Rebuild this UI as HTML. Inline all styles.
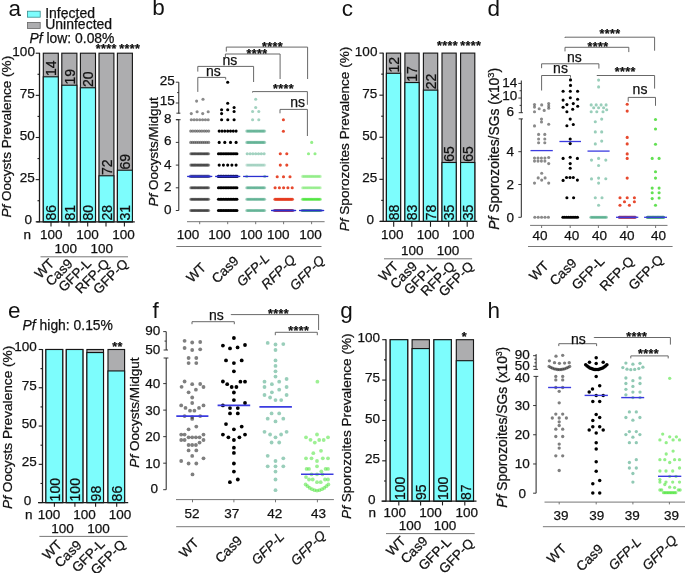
<!DOCTYPE html>
<html><head><meta charset="utf-8"><title>Figure</title>
<style>html,body{margin:0;padding:0;background:#fff}svg{display:block;filter:blur(0.3px)}text{font-family:"Liberation Sans",Arial,sans-serif;stroke:#111;stroke-width:.25px}</style>
</head><body>
<svg width="685" height="573" viewBox="0 0 685 573">
<rect width="685" height="573" fill="#fff"/>
<text x="8.4" y="15.6" font-size="22.5" fill="#111" style="stroke-width:0">a</text>
<text x="152.3" y="15.4" font-size="22.5" fill="#111" style="stroke-width:0">b</text>
<text x="341.7" y="16.2" font-size="22.5" fill="#111" style="stroke-width:0">c</text>
<text x="487.4" y="16.2" font-size="22.5" fill="#111" style="stroke-width:0">d</text>
<text x="7.9" y="317.8" font-size="22.5" fill="#111" style="stroke-width:0">e</text>
<text x="152.5" y="317.9" font-size="22.5" fill="#111" style="stroke-width:0">f</text>
<text x="340.2" y="317.5" font-size="22.5" fill="#111" style="stroke-width:0">g</text>
<text x="487.6" y="318" font-size="22.5" fill="#111" style="stroke-width:0">h</text>
<rect x="27.40" y="11.20" width="12.80" height="6.00" fill="#7dfdfd" stroke="#3a8c8c" stroke-width="0.8"/>
<rect x="27.40" y="22.40" width="12.80" height="6.10" fill="#adadaf" stroke="#666" stroke-width="0.8"/>
<text x="45.20" y="18.00" font-size="14" text-anchor="start" fill="#111">Infected</text>
<text x="45.20" y="29.40" font-size="14" text-anchor="start" fill="#111">Uninfected</text>
<text x="29.5" y="43.3" font-size="13.9" fill="#111"><tspan font-style="italic">Pf</tspan> low: 0.08%</text>
<text x="22.6" y="329.6" font-size="13.9" fill="#111"><tspan font-style="italic">Pf</tspan> high: 0.15%</text>
<rect x="43.30" y="53.20" width="15.00" height="168.60" fill="#adadaf" stroke="#161616" stroke-width="1.12"/>
<rect x="43.30" y="76.80" width="15.00" height="145.00" fill="#7dfdfd" stroke="#161616" stroke-width="1.12"/>
<text x="56.00" y="220.60" font-size="14" text-anchor="start" transform="rotate(-90 56.00 220.60)" fill="#111">86</text>
<text x="56.00" y="76.00" font-size="14" text-anchor="start" transform="rotate(-90 56.00 76.00)" fill="#111">14</text>
<rect x="61.80" y="53.20" width="15.10" height="168.60" fill="#adadaf" stroke="#161616" stroke-width="1.12"/>
<rect x="61.80" y="85.23" width="15.10" height="136.57" fill="#7dfdfd" stroke="#161616" stroke-width="1.12"/>
<text x="74.55" y="220.60" font-size="14" text-anchor="start" transform="rotate(-90 74.55 220.60)" fill="#111">81</text>
<text x="74.55" y="84.43" font-size="14" text-anchor="start" transform="rotate(-90 74.55 84.43)" fill="#111">19</text>
<rect x="80.40" y="53.20" width="15.10" height="168.60" fill="#adadaf" stroke="#161616" stroke-width="1.12"/>
<rect x="80.40" y="87.76" width="15.10" height="134.04" fill="#7dfdfd" stroke="#161616" stroke-width="1.12"/>
<text x="93.15" y="220.60" font-size="14" text-anchor="start" transform="rotate(-90 93.15 220.60)" fill="#111">80</text>
<text x="93.15" y="86.96" font-size="14" text-anchor="start" transform="rotate(-90 93.15 86.96)" fill="#111">20</text>
<rect x="99.00" y="53.20" width="14.90" height="168.60" fill="#adadaf" stroke="#161616" stroke-width="1.12"/>
<rect x="99.00" y="175.77" width="14.90" height="46.03" fill="#7dfdfd" stroke="#161616" stroke-width="1.12"/>
<text x="111.65" y="220.60" font-size="14" text-anchor="start" transform="rotate(-90 111.65 220.60)" fill="#111">28</text>
<text x="111.65" y="174.97" font-size="14" text-anchor="start" transform="rotate(-90 111.65 174.97)" fill="#111">72</text>
<rect x="117.40" y="53.20" width="15.00" height="168.60" fill="#adadaf" stroke="#161616" stroke-width="1.12"/>
<rect x="117.40" y="170.21" width="15.00" height="51.59" fill="#7dfdfd" stroke="#161616" stroke-width="1.12"/>
<text x="130.10" y="220.60" font-size="14" text-anchor="start" transform="rotate(-90 130.10 220.60)" fill="#111">31</text>
<text x="130.10" y="169.41" font-size="14" text-anchor="start" transform="rotate(-90 130.10 169.41)" fill="#111">69</text>
<line x1="39.50" y1="52.80" x2="39.50" y2="222.20" stroke="#1c1c1c" stroke-width="1.3"/>
<line x1="35.70" y1="221.80" x2="39.50" y2="221.80" stroke="#1c1c1c" stroke-width="1.1"/>
<line x1="37.50" y1="200.73" x2="39.50" y2="200.73" stroke="#1c1c1c" stroke-width="1.1"/>
<line x1="35.70" y1="179.65" x2="39.50" y2="179.65" stroke="#1c1c1c" stroke-width="1.1"/>
<line x1="37.50" y1="158.57" x2="39.50" y2="158.57" stroke="#1c1c1c" stroke-width="1.1"/>
<line x1="35.70" y1="137.50" x2="39.50" y2="137.50" stroke="#1c1c1c" stroke-width="1.1"/>
<line x1="37.50" y1="116.42" x2="39.50" y2="116.42" stroke="#1c1c1c" stroke-width="1.1"/>
<line x1="35.70" y1="95.35" x2="39.50" y2="95.35" stroke="#1c1c1c" stroke-width="1.1"/>
<line x1="37.50" y1="74.28" x2="39.50" y2="74.28" stroke="#1c1c1c" stroke-width="1.1"/>
<line x1="35.70" y1="53.20" x2="39.50" y2="53.20" stroke="#1c1c1c" stroke-width="1.1"/>
<text x="31.90" y="224.20" font-size="13.5" text-anchor="end" fill="#111">0</text>
<text x="34.90" y="182.05" font-size="13.5" text-anchor="end" fill="#111">25</text>
<text x="34.90" y="139.90" font-size="13.5" text-anchor="end" fill="#111">50</text>
<text x="34.90" y="97.75" font-size="13.5" text-anchor="end" fill="#111">75</text>
<text x="34.90" y="55.60" font-size="13.5" text-anchor="end" fill="#111">100</text>
<line x1="36.50" y1="221.80" x2="134.80" y2="221.80" stroke="#1c1c1c" stroke-width="1.3"/>
<line x1="51.00" y1="221.80" x2="51.00" y2="226.60" stroke="#1c1c1c" stroke-width="1.1"/>
<line x1="69.00" y1="221.80" x2="69.00" y2="226.60" stroke="#1c1c1c" stroke-width="1.1"/>
<line x1="87.70" y1="221.80" x2="87.70" y2="226.60" stroke="#1c1c1c" stroke-width="1.1"/>
<line x1="106.00" y1="221.80" x2="106.00" y2="226.60" stroke="#1c1c1c" stroke-width="1.1"/>
<line x1="124.40" y1="221.80" x2="124.40" y2="226.60" stroke="#1c1c1c" stroke-width="1.1"/>
<text x="23.50" y="239.30" font-size="13.5" text-anchor="start" fill="#111">n</text>
<text x="51.30" y="239.20" font-size="13.5" text-anchor="middle" fill="#111">100</text>
<text x="87.60" y="239.20" font-size="13.5" text-anchor="middle" fill="#111">100</text>
<text x="123.60" y="239.20" font-size="13.5" text-anchor="middle" fill="#111">100</text>
<text x="65.70" y="252.60" font-size="13.5" text-anchor="middle" fill="#111">100</text>
<text x="101.80" y="252.60" font-size="13.5" text-anchor="middle" fill="#111">100</text>
<line x1="40.50" y1="256.80" x2="128.00" y2="256.80" stroke="#555" stroke-width="0.8"/>
<text x="55.00" y="264.50" font-size="13.5" text-anchor="end" transform="rotate(-45 55.00 264.50)" fill="#111">WT</text>
<text x="73.50" y="264.50" font-size="13.5" text-anchor="end" transform="rotate(-45 73.50 264.50)" fill="#111">Cas9</text>
<text x="92.00" y="264.50" font-size="13.5" text-anchor="end" transform="rotate(-45 92.00 264.50)" fill="#111">GFP-L</text>
<text x="110.50" y="264.50" font-size="13.5" text-anchor="end" transform="rotate(-45 110.50 264.50)" fill="#111">RFP-Q</text>
<text x="129.00" y="264.50" font-size="13.5" text-anchor="end" transform="rotate(-45 129.00 264.50)" fill="#111">GFP-Q</text>
<text x="10.60" y="136.70" font-size="13.54" text-anchor="middle" transform="rotate(-90 10.60 136.70)" fill="#111"><tspan font-style="italic">Pf</tspan> Oocysts Prevalence (%)</text>
<text x="95.70" y="53.40" font-size="12.5" font-weight="bold" letter-spacing="0.39" text-anchor="start" fill="#111">****</text>
<text x="119.30" y="53.40" font-size="12.5" font-weight="bold" letter-spacing="0.39" text-anchor="start" fill="#111">****</text>
<rect x="386.40" y="53.10" width="14.20" height="168.30" fill="#adadaf" stroke="#161616" stroke-width="1.12"/>
<rect x="386.40" y="73.30" width="14.20" height="148.10" fill="#7dfdfd" stroke="#161616" stroke-width="1.12"/>
<text x="398.70" y="220.20" font-size="14" text-anchor="start" transform="rotate(-90 398.70 220.20)" fill="#111">88</text>
<text x="398.70" y="72.50" font-size="14" text-anchor="start" transform="rotate(-90 398.70 72.50)" fill="#111">12</text>
<rect x="404.90" y="53.10" width="14.20" height="168.30" fill="#adadaf" stroke="#161616" stroke-width="1.12"/>
<rect x="404.90" y="82.55" width="14.20" height="138.85" fill="#7dfdfd" stroke="#161616" stroke-width="1.12"/>
<text x="417.20" y="220.20" font-size="14" text-anchor="start" transform="rotate(-90 417.20 220.20)" fill="#111">83</text>
<text x="417.20" y="81.75" font-size="14" text-anchor="start" transform="rotate(-90 417.20 81.75)" fill="#111">17</text>
<rect x="423.40" y="53.10" width="14.30" height="168.30" fill="#adadaf" stroke="#161616" stroke-width="1.12"/>
<rect x="423.40" y="90.13" width="14.30" height="131.27" fill="#7dfdfd" stroke="#161616" stroke-width="1.12"/>
<text x="435.75" y="220.20" font-size="14" text-anchor="start" transform="rotate(-90 435.75 220.20)" fill="#111">78</text>
<text x="435.75" y="89.33" font-size="14" text-anchor="start" transform="rotate(-90 435.75 89.33)" fill="#111">22</text>
<rect x="442.00" y="53.10" width="14.20" height="168.30" fill="#adadaf" stroke="#161616" stroke-width="1.12"/>
<rect x="442.00" y="162.50" width="14.20" height="58.91" fill="#7dfdfd" stroke="#161616" stroke-width="1.12"/>
<text x="454.30" y="220.20" font-size="14" text-anchor="start" transform="rotate(-90 454.30 220.20)" fill="#111">35</text>
<text x="454.30" y="161.69" font-size="14" text-anchor="start" transform="rotate(-90 454.30 161.69)" fill="#111">65</text>
<rect x="460.60" y="53.10" width="14.20" height="168.30" fill="#adadaf" stroke="#161616" stroke-width="1.12"/>
<rect x="460.60" y="162.50" width="14.20" height="58.91" fill="#7dfdfd" stroke="#161616" stroke-width="1.12"/>
<text x="472.90" y="220.20" font-size="14" text-anchor="start" transform="rotate(-90 472.90 220.20)" fill="#111">35</text>
<text x="472.90" y="161.69" font-size="14" text-anchor="start" transform="rotate(-90 472.90 161.69)" fill="#111">65</text>
<line x1="383.20" y1="52.70" x2="383.20" y2="221.80" stroke="#1c1c1c" stroke-width="1.3"/>
<line x1="379.40" y1="221.40" x2="383.20" y2="221.40" stroke="#1c1c1c" stroke-width="1.1"/>
<line x1="381.20" y1="200.36" x2="383.20" y2="200.36" stroke="#1c1c1c" stroke-width="1.1"/>
<line x1="379.40" y1="179.32" x2="383.20" y2="179.32" stroke="#1c1c1c" stroke-width="1.1"/>
<line x1="381.20" y1="158.29" x2="383.20" y2="158.29" stroke="#1c1c1c" stroke-width="1.1"/>
<line x1="379.40" y1="137.25" x2="383.20" y2="137.25" stroke="#1c1c1c" stroke-width="1.1"/>
<line x1="381.20" y1="116.21" x2="383.20" y2="116.21" stroke="#1c1c1c" stroke-width="1.1"/>
<line x1="379.40" y1="95.17" x2="383.20" y2="95.17" stroke="#1c1c1c" stroke-width="1.1"/>
<line x1="381.20" y1="74.14" x2="383.20" y2="74.14" stroke="#1c1c1c" stroke-width="1.1"/>
<line x1="379.40" y1="53.10" x2="383.20" y2="53.10" stroke="#1c1c1c" stroke-width="1.1"/>
<text x="373.90" y="224.10" font-size="13.5" text-anchor="end" fill="#111">0</text>
<text x="377.40" y="182.02" font-size="13.5" text-anchor="end" fill="#111">25</text>
<text x="377.40" y="139.95" font-size="13.5" text-anchor="end" fill="#111">50</text>
<text x="377.40" y="97.88" font-size="13.5" text-anchor="end" fill="#111">75</text>
<text x="377.40" y="55.80" font-size="13.5" text-anchor="end" fill="#111">100</text>
<line x1="380.00" y1="221.40" x2="477.20" y2="221.40" stroke="#1c1c1c" stroke-width="1.3"/>
<line x1="393.70" y1="221.40" x2="393.70" y2="226.80" stroke="#1c1c1c" stroke-width="1.1"/>
<line x1="411.80" y1="221.40" x2="411.80" y2="226.80" stroke="#1c1c1c" stroke-width="1.1"/>
<line x1="430.50" y1="221.40" x2="430.50" y2="226.80" stroke="#1c1c1c" stroke-width="1.1"/>
<line x1="448.70" y1="221.40" x2="448.70" y2="226.80" stroke="#1c1c1c" stroke-width="1.1"/>
<line x1="467.20" y1="221.40" x2="467.20" y2="226.80" stroke="#1c1c1c" stroke-width="1.1"/>
<text x="392.30" y="238.70" font-size="13.5" text-anchor="middle" fill="#111">100</text>
<text x="428.10" y="238.70" font-size="13.5" text-anchor="middle" fill="#111">100</text>
<text x="463.30" y="238.70" font-size="13.5" text-anchor="middle" fill="#111">100</text>
<text x="412.30" y="254.90" font-size="13.5" text-anchor="middle" fill="#111">100</text>
<text x="448.00" y="254.90" font-size="13.5" text-anchor="middle" fill="#111">100</text>
<line x1="384.00" y1="258.80" x2="472.10" y2="258.80" stroke="#555" stroke-width="0.8"/>
<text x="399.00" y="267.10" font-size="13.5" text-anchor="end" transform="rotate(-45 399.00 267.10)" fill="#111">WT</text>
<text x="418.00" y="267.10" font-size="13.5" text-anchor="end" transform="rotate(-45 418.00 267.10)" fill="#111">Cas9</text>
<text x="437.50" y="267.10" font-size="13.5" text-anchor="end" transform="rotate(-45 437.50 267.10)" fill="#111">GFP-L</text>
<text x="456.00" y="267.10" font-size="13.5" text-anchor="end" transform="rotate(-45 456.00 267.10)" fill="#111">RFP-Q</text>
<text x="474.50" y="267.10" font-size="13.5" text-anchor="end" transform="rotate(-45 474.50 267.10)" fill="#111">GFP-Q</text>
<text x="348.70" y="139.00" font-size="13.55" text-anchor="middle" transform="rotate(-90 348.70 139.00)" fill="#111"><tspan font-style="italic">Pf</tspan> Sporozoites Prevalence (%)</text>
<text x="437.00" y="49.70" font-size="12.5" font-weight="bold" letter-spacing="0.39" text-anchor="start" fill="#111">****</text>
<text x="460.20" y="49.70" font-size="12.5" font-weight="bold" letter-spacing="0.39" text-anchor="start" fill="#111">****</text>
<rect x="45.90" y="349.50" width="16.80" height="153.10" fill="#adadaf" stroke="#161616" stroke-width="1.12"/>
<rect x="45.90" y="349.50" width="16.80" height="153.10" fill="#7dfdfd" stroke="#161616" stroke-width="1.12"/>
<text x="59.90" y="501.40" font-size="14" text-anchor="start" transform="rotate(-90 59.90 501.40)" fill="#111">100</text>
<rect x="66.30" y="349.50" width="16.60" height="153.10" fill="#adadaf" stroke="#161616" stroke-width="1.12"/>
<rect x="66.30" y="349.50" width="16.60" height="153.10" fill="#7dfdfd" stroke="#161616" stroke-width="1.12"/>
<text x="80.20" y="501.40" font-size="14" text-anchor="start" transform="rotate(-90 80.20 501.40)" fill="#111">100</text>
<rect x="86.90" y="349.50" width="16.60" height="153.10" fill="#adadaf" stroke="#161616" stroke-width="1.12"/>
<rect x="86.90" y="352.56" width="16.60" height="150.04" fill="#7dfdfd" stroke="#161616" stroke-width="1.12"/>
<text x="100.80" y="501.40" font-size="14" text-anchor="start" transform="rotate(-90 100.80 501.40)" fill="#111">98</text>
<rect x="108.00" y="349.50" width="16.60" height="153.10" fill="#adadaf" stroke="#161616" stroke-width="1.12"/>
<rect x="108.00" y="370.93" width="16.60" height="131.67" fill="#7dfdfd" stroke="#161616" stroke-width="1.12"/>
<text x="121.90" y="501.40" font-size="14" text-anchor="start" transform="rotate(-90 121.90 501.40)" fill="#111">86</text>
<line x1="42.50" y1="349.10" x2="42.50" y2="503.00" stroke="#1c1c1c" stroke-width="1.3"/>
<line x1="38.70" y1="502.60" x2="42.50" y2="502.60" stroke="#1c1c1c" stroke-width="1.1"/>
<line x1="40.50" y1="483.46" x2="42.50" y2="483.46" stroke="#1c1c1c" stroke-width="1.1"/>
<line x1="38.70" y1="464.33" x2="42.50" y2="464.33" stroke="#1c1c1c" stroke-width="1.1"/>
<line x1="40.50" y1="445.19" x2="42.50" y2="445.19" stroke="#1c1c1c" stroke-width="1.1"/>
<line x1="38.70" y1="426.05" x2="42.50" y2="426.05" stroke="#1c1c1c" stroke-width="1.1"/>
<line x1="40.50" y1="406.91" x2="42.50" y2="406.91" stroke="#1c1c1c" stroke-width="1.1"/>
<line x1="38.70" y1="387.77" x2="42.50" y2="387.77" stroke="#1c1c1c" stroke-width="1.1"/>
<line x1="40.50" y1="368.64" x2="42.50" y2="368.64" stroke="#1c1c1c" stroke-width="1.1"/>
<line x1="38.70" y1="349.50" x2="42.50" y2="349.50" stroke="#1c1c1c" stroke-width="1.1"/>
<text x="31.30" y="504.50" font-size="13.5" text-anchor="end" fill="#111">0</text>
<text x="36.70" y="466.23" font-size="13.5" text-anchor="end" fill="#111">25</text>
<text x="36.70" y="427.95" font-size="13.5" text-anchor="end" fill="#111">50</text>
<text x="36.70" y="389.67" font-size="13.5" text-anchor="end" fill="#111">75</text>
<text x="36.70" y="351.40" font-size="13.5" text-anchor="end" fill="#111">100</text>
<line x1="38.00" y1="502.60" x2="128.20" y2="502.60" stroke="#1c1c1c" stroke-width="1.3"/>
<line x1="54.40" y1="502.60" x2="54.40" y2="506.80" stroke="#1c1c1c" stroke-width="1.1"/>
<line x1="74.90" y1="502.60" x2="74.90" y2="506.80" stroke="#1c1c1c" stroke-width="1.1"/>
<line x1="95.60" y1="502.60" x2="95.60" y2="506.80" stroke="#1c1c1c" stroke-width="1.1"/>
<line x1="116.70" y1="502.60" x2="116.70" y2="506.80" stroke="#1c1c1c" stroke-width="1.1"/>
<text x="24.90" y="518.90" font-size="13.5" text-anchor="start" fill="#111">n</text>
<text x="49.00" y="519.00" font-size="13.5" text-anchor="middle" fill="#111">100</text>
<text x="84.60" y="519.00" font-size="13.5" text-anchor="middle" fill="#111">100</text>
<text x="120.00" y="519.00" font-size="13.5" text-anchor="middle" fill="#111">100</text>
<text x="62.40" y="532.70" font-size="13.5" text-anchor="middle" fill="#111">100</text>
<text x="98.40" y="532.70" font-size="13.5" text-anchor="middle" fill="#111">100</text>
<line x1="39.40" y1="536.40" x2="127.70" y2="536.40" stroke="#555" stroke-width="0.8"/>
<text x="62.80" y="545.70" font-size="13.5" text-anchor="end" transform="rotate(-45 62.80 545.70)" fill="#111">WT</text>
<text x="82.50" y="546.00" font-size="13.5" text-anchor="end" transform="rotate(-45 82.50 546.00)" fill="#111">Cas9</text>
<text x="105.50" y="545.00" font-size="13.5" text-anchor="end" transform="rotate(-45 105.50 545.00)" fill="#111">GFP-L</text>
<text x="126.40" y="545.30" font-size="13.5" text-anchor="end" transform="rotate(-45 126.40 545.30)" fill="#111">GFP-Q</text>
<text x="11.80" y="427.30" font-size="13.66" text-anchor="middle" transform="rotate(-90 11.80 427.30)" fill="#111"><tspan font-style="italic">Pf</tspan> Oocysts Prevalence (%)</text>
<text x="112.30" y="350.50" font-size="12.5" font-weight="bold" letter-spacing="0.39" text-anchor="start" fill="#111">**</text>
<rect x="390.20" y="339.70" width="17.50" height="161.50" fill="#adadaf" stroke="#161616" stroke-width="1.12"/>
<rect x="390.20" y="339.70" width="17.50" height="161.50" fill="#7dfdfd" stroke="#161616" stroke-width="1.12"/>
<text x="404.55" y="500.00" font-size="14" text-anchor="start" transform="rotate(-90 404.55 500.00)" fill="#111">100</text>
<rect x="412.10" y="339.70" width="17.30" height="161.50" fill="#adadaf" stroke="#161616" stroke-width="1.12"/>
<rect x="412.10" y="348.58" width="17.30" height="152.62" fill="#7dfdfd" stroke="#161616" stroke-width="1.12"/>
<text x="426.35" y="500.00" font-size="14" text-anchor="start" transform="rotate(-90 426.35 500.00)" fill="#111">95</text>
<rect x="433.90" y="339.70" width="17.40" height="161.50" fill="#adadaf" stroke="#161616" stroke-width="1.12"/>
<rect x="433.90" y="339.70" width="17.40" height="161.50" fill="#7dfdfd" stroke="#161616" stroke-width="1.12"/>
<text x="448.20" y="500.00" font-size="14" text-anchor="start" transform="rotate(-90 448.20 500.00)" fill="#111">100</text>
<rect x="456.30" y="339.70" width="17.20" height="161.50" fill="#adadaf" stroke="#161616" stroke-width="1.12"/>
<rect x="456.30" y="360.69" width="17.20" height="140.50" fill="#7dfdfd" stroke="#161616" stroke-width="1.12"/>
<text x="470.50" y="500.00" font-size="14" text-anchor="start" transform="rotate(-90 470.50 500.00)" fill="#111">87</text>
<line x1="386.00" y1="339.30" x2="386.00" y2="501.60" stroke="#1c1c1c" stroke-width="1.3"/>
<line x1="382.20" y1="501.20" x2="386.00" y2="501.20" stroke="#1c1c1c" stroke-width="1.1"/>
<line x1="384.00" y1="481.01" x2="386.00" y2="481.01" stroke="#1c1c1c" stroke-width="1.1"/>
<line x1="382.20" y1="460.82" x2="386.00" y2="460.82" stroke="#1c1c1c" stroke-width="1.1"/>
<line x1="384.00" y1="440.64" x2="386.00" y2="440.64" stroke="#1c1c1c" stroke-width="1.1"/>
<line x1="382.20" y1="420.45" x2="386.00" y2="420.45" stroke="#1c1c1c" stroke-width="1.1"/>
<line x1="384.00" y1="400.26" x2="386.00" y2="400.26" stroke="#1c1c1c" stroke-width="1.1"/>
<line x1="382.20" y1="380.07" x2="386.00" y2="380.07" stroke="#1c1c1c" stroke-width="1.1"/>
<line x1="384.00" y1="359.89" x2="386.00" y2="359.89" stroke="#1c1c1c" stroke-width="1.1"/>
<line x1="382.20" y1="339.70" x2="386.00" y2="339.70" stroke="#1c1c1c" stroke-width="1.1"/>
<text x="375.50" y="503.50" font-size="13.5" text-anchor="end" fill="#111">0</text>
<text x="380.00" y="463.12" font-size="13.5" text-anchor="end" fill="#111">25</text>
<text x="380.00" y="422.75" font-size="13.5" text-anchor="end" fill="#111">50</text>
<text x="380.00" y="382.38" font-size="13.5" text-anchor="end" fill="#111">75</text>
<text x="380.00" y="342.00" font-size="13.5" text-anchor="end" fill="#111">100</text>
<line x1="381.50" y1="501.20" x2="476.50" y2="501.20" stroke="#1c1c1c" stroke-width="1.3"/>
<line x1="398.80" y1="501.20" x2="398.80" y2="505.40" stroke="#1c1c1c" stroke-width="1.1"/>
<line x1="420.60" y1="501.20" x2="420.60" y2="505.40" stroke="#1c1c1c" stroke-width="1.1"/>
<line x1="442.50" y1="501.20" x2="442.50" y2="505.40" stroke="#1c1c1c" stroke-width="1.1"/>
<line x1="464.80" y1="501.20" x2="464.80" y2="505.40" stroke="#1c1c1c" stroke-width="1.1"/>
<text x="368.50" y="516.80" font-size="13.5" text-anchor="start" fill="#111">n</text>
<text x="394.70" y="516.80" font-size="13.5" text-anchor="middle" fill="#111">100</text>
<text x="430.50" y="516.80" font-size="13.5" text-anchor="middle" fill="#111">100</text>
<text x="466.80" y="516.80" font-size="13.5" text-anchor="middle" fill="#111">100</text>
<text x="409.90" y="529.90" font-size="13.5" text-anchor="middle" fill="#111">100</text>
<text x="444.90" y="529.90" font-size="13.5" text-anchor="middle" fill="#111">100</text>
<line x1="386.00" y1="533.60" x2="474.70" y2="533.60" stroke="#555" stroke-width="0.8"/>
<text x="406.50" y="542.00" font-size="13.5" text-anchor="end" transform="rotate(-45 406.50 542.00)" fill="#111">WT</text>
<text x="428.50" y="542.00" font-size="13.5" text-anchor="end" transform="rotate(-45 428.50 542.00)" fill="#111">Cas9</text>
<text x="452.00" y="543.00" font-size="13.5" text-anchor="end" transform="rotate(-45 452.00 543.00)" fill="#111">GFP-L</text>
<text x="474.70" y="544.00" font-size="13.5" text-anchor="end" transform="rotate(-45 474.70 544.00)" fill="#111">GFP-Q</text>
<text x="351.40" y="426.10" font-size="13.64" text-anchor="middle" transform="rotate(-90 351.40 426.10)" fill="#111"><tspan font-style="italic">Pf</tspan> Sporozoites Prevalence (%)</text>
<text x="461.80" y="341.00" font-size="12.5" font-weight="bold" letter-spacing="0.39" text-anchor="start" fill="#111">*</text>
<line x1="178.80" y1="119.70" x2="178.80" y2="210.50" stroke="#222" stroke-width="1.0"/>
<line x1="178.80" y1="82.20" x2="178.80" y2="113.40" stroke="#222" stroke-width="1.0"/>
<line x1="175.80" y1="210.50" x2="178.80" y2="210.50" stroke="#222" stroke-width="0.9"/>
<line x1="175.80" y1="187.80" x2="178.80" y2="187.80" stroke="#222" stroke-width="0.9"/>
<line x1="175.80" y1="165.10" x2="178.80" y2="165.10" stroke="#222" stroke-width="0.9"/>
<line x1="175.80" y1="142.40" x2="178.80" y2="142.40" stroke="#222" stroke-width="0.9"/>
<line x1="175.80" y1="119.70" x2="178.80" y2="119.70" stroke="#222" stroke-width="0.9"/>
<line x1="175.80" y1="82.20" x2="178.80" y2="82.20" stroke="#222" stroke-width="0.9"/>
<line x1="175.80" y1="103.00" x2="178.80" y2="103.00" stroke="#222" stroke-width="0.9"/>
<line x1="177.10" y1="92.60" x2="178.80" y2="92.60" stroke="#222" stroke-width="0.9"/>
<line x1="176.40" y1="113.20" x2="180.40" y2="113.20" stroke="#222" stroke-width="0.9"/>
<line x1="176.20" y1="119.70" x2="180.60" y2="119.70" stroke="#222" stroke-width="0.9"/>
<text x="171.60" y="214.05" font-size="13.5" text-anchor="end" fill="#111">0</text>
<text x="171.60" y="191.35" font-size="13.5" text-anchor="end" fill="#111">2</text>
<text x="171.60" y="168.55" font-size="13.5" text-anchor="end" fill="#111">4</text>
<text x="171.60" y="145.25" font-size="13.5" text-anchor="end" fill="#111">6</text>
<text x="171.60" y="122.75" font-size="13.5" text-anchor="end" fill="#111">8</text>
<text x="174.80" y="105.45" font-size="13.5" text-anchor="end" fill="#111">15</text>
<text x="174.80" y="85.05" font-size="13.5" text-anchor="end" fill="#111">25</text>
<text x="158.00" y="151.80" font-size="13.48" text-anchor="middle" transform="rotate(-90 158.00 151.80)" fill="#111"><tspan font-style="italic">Pf</tspan> Oocysts/Midgut</text>
<line x1="187.00" y1="221.70" x2="324.60" y2="221.70" stroke="#666" stroke-width="0.9"/>
<line x1="199.70" y1="221.70" x2="199.70" y2="224.20" stroke="#666" stroke-width="0.9"/>
<line x1="227.70" y1="221.70" x2="227.70" y2="224.20" stroke="#666" stroke-width="0.9"/>
<line x1="255.70" y1="221.70" x2="255.70" y2="224.20" stroke="#666" stroke-width="0.9"/>
<line x1="283.60" y1="221.70" x2="283.60" y2="224.20" stroke="#666" stroke-width="0.9"/>
<line x1="311.60" y1="221.70" x2="311.60" y2="224.20" stroke="#666" stroke-width="0.9"/>
<text x="188.10" y="239.10" font-size="13.5" text-anchor="middle" fill="#111">100</text>
<text x="219.50" y="239.10" font-size="13.5" text-anchor="middle" fill="#111">100</text>
<text x="251.20" y="239.10" font-size="13.5" text-anchor="middle" fill="#111">100</text>
<text x="278.30" y="239.10" font-size="13.5" text-anchor="middle" fill="#111">100</text>
<text x="310.50" y="239.10" font-size="13.5" text-anchor="middle" fill="#111">100</text>
<line x1="176.30" y1="246.50" x2="321.50" y2="246.50" stroke="#555" stroke-width="0.8"/>
<g fill="#2a2a2a" fill-opacity="0.55"><circle cx="196.6" cy="101.1" r="1.55"/><circle cx="203.0" cy="99.2" r="1.55"/><circle cx="191.3" cy="113.6" r="1.55"/><circle cx="197.1" cy="111.7" r="1.55"/><circle cx="202.7" cy="113.6" r="1.55"/><circle cx="208.2" cy="111.7" r="1.55"/></g>
<g fill="#2a2a2a" fill-opacity="0.55"><circle cx="191.3" cy="119.7" r="1.55"/><circle cx="194.1" cy="119.7" r="1.55"/><circle cx="196.9" cy="119.7" r="1.55"/><circle cx="199.8" cy="119.7" r="1.55"/><circle cx="202.6" cy="119.7" r="1.55"/><circle cx="205.4" cy="119.7" r="1.55"/><circle cx="208.2" cy="119.7" r="1.55"/></g>
<g fill="#2a2a2a" fill-opacity="0.55"><circle cx="190.7" cy="131.1" r="1.55"/><circle cx="192.9" cy="131.1" r="1.55"/><circle cx="195.2" cy="131.1" r="1.55"/><circle cx="197.4" cy="131.1" r="1.55"/><circle cx="199.7" cy="131.1" r="1.55"/><circle cx="201.9" cy="131.1" r="1.55"/><circle cx="204.2" cy="131.1" r="1.55"/><circle cx="206.4" cy="131.1" r="1.55"/><circle cx="208.7" cy="131.1" r="1.55"/></g>
<g fill="#2a2a2a" fill-opacity="0.55"><circle cx="190.7" cy="142.4" r="1.55"/><circle cx="192.7" cy="142.4" r="1.55"/><circle cx="194.7" cy="142.4" r="1.55"/><circle cx="196.7" cy="142.4" r="1.55"/><circle cx="198.7" cy="142.4" r="1.55"/><circle cx="200.7" cy="142.4" r="1.55"/><circle cx="202.7" cy="142.4" r="1.55"/><circle cx="204.7" cy="142.4" r="1.55"/><circle cx="206.7" cy="142.4" r="1.55"/><circle cx="208.7" cy="142.4" r="1.55"/></g>
<g fill="#2a2a2a" fill-opacity="0.44000000000000006"><circle cx="190.7" cy="153.8" r="1.55"/><circle cx="191.6" cy="153.8" r="1.55"/><circle cx="192.4" cy="153.8" r="1.55"/><circle cx="193.3" cy="153.8" r="1.55"/><circle cx="194.1" cy="153.8" r="1.55"/><circle cx="195.0" cy="153.8" r="1.55"/><circle cx="195.8" cy="153.8" r="1.55"/><circle cx="196.7" cy="153.8" r="1.55"/><circle cx="197.6" cy="153.8" r="1.55"/><circle cx="198.4" cy="153.8" r="1.55"/><circle cx="199.3" cy="153.8" r="1.55"/><circle cx="200.1" cy="153.8" r="1.55"/><circle cx="201.0" cy="153.8" r="1.55"/><circle cx="201.8" cy="153.8" r="1.55"/><circle cx="202.7" cy="153.8" r="1.55"/><circle cx="203.6" cy="153.8" r="1.55"/><circle cx="204.4" cy="153.8" r="1.55"/><circle cx="205.3" cy="153.8" r="1.55"/><circle cx="206.1" cy="153.8" r="1.55"/><circle cx="207.0" cy="153.8" r="1.55"/><circle cx="207.8" cy="153.8" r="1.55"/><circle cx="208.7" cy="153.8" r="1.55"/></g>
<g fill="#2a2a2a" fill-opacity="0.44000000000000006"><circle cx="190.7" cy="165.1" r="1.55"/><circle cx="191.6" cy="165.1" r="1.55"/><circle cx="192.4" cy="165.1" r="1.55"/><circle cx="193.3" cy="165.1" r="1.55"/><circle cx="194.1" cy="165.1" r="1.55"/><circle cx="195.0" cy="165.1" r="1.55"/><circle cx="195.8" cy="165.1" r="1.55"/><circle cx="196.7" cy="165.1" r="1.55"/><circle cx="197.6" cy="165.1" r="1.55"/><circle cx="198.4" cy="165.1" r="1.55"/><circle cx="199.3" cy="165.1" r="1.55"/><circle cx="200.1" cy="165.1" r="1.55"/><circle cx="201.0" cy="165.1" r="1.55"/><circle cx="201.8" cy="165.1" r="1.55"/><circle cx="202.7" cy="165.1" r="1.55"/><circle cx="203.6" cy="165.1" r="1.55"/><circle cx="204.4" cy="165.1" r="1.55"/><circle cx="205.3" cy="165.1" r="1.55"/><circle cx="206.1" cy="165.1" r="1.55"/><circle cx="207.0" cy="165.1" r="1.55"/><circle cx="207.8" cy="165.1" r="1.55"/><circle cx="208.7" cy="165.1" r="1.55"/></g>
<g fill="#2a2a2a" fill-opacity="0.44000000000000006"><circle cx="190.7" cy="176.4" r="1.55"/><circle cx="191.6" cy="176.4" r="1.55"/><circle cx="192.4" cy="176.4" r="1.55"/><circle cx="193.3" cy="176.4" r="1.55"/><circle cx="194.1" cy="176.4" r="1.55"/><circle cx="195.0" cy="176.4" r="1.55"/><circle cx="195.8" cy="176.4" r="1.55"/><circle cx="196.7" cy="176.4" r="1.55"/><circle cx="197.6" cy="176.4" r="1.55"/><circle cx="198.4" cy="176.4" r="1.55"/><circle cx="199.3" cy="176.4" r="1.55"/><circle cx="200.1" cy="176.4" r="1.55"/><circle cx="201.0" cy="176.4" r="1.55"/><circle cx="201.8" cy="176.4" r="1.55"/><circle cx="202.7" cy="176.4" r="1.55"/><circle cx="203.6" cy="176.4" r="1.55"/><circle cx="204.4" cy="176.4" r="1.55"/><circle cx="205.3" cy="176.4" r="1.55"/><circle cx="206.1" cy="176.4" r="1.55"/><circle cx="207.0" cy="176.4" r="1.55"/><circle cx="207.8" cy="176.4" r="1.55"/><circle cx="208.7" cy="176.4" r="1.55"/></g>
<g fill="#2a2a2a" fill-opacity="0.44000000000000006"><circle cx="190.7" cy="187.8" r="1.55"/><circle cx="191.6" cy="187.8" r="1.55"/><circle cx="192.4" cy="187.8" r="1.55"/><circle cx="193.3" cy="187.8" r="1.55"/><circle cx="194.1" cy="187.8" r="1.55"/><circle cx="195.0" cy="187.8" r="1.55"/><circle cx="195.8" cy="187.8" r="1.55"/><circle cx="196.7" cy="187.8" r="1.55"/><circle cx="197.6" cy="187.8" r="1.55"/><circle cx="198.4" cy="187.8" r="1.55"/><circle cx="199.3" cy="187.8" r="1.55"/><circle cx="200.1" cy="187.8" r="1.55"/><circle cx="201.0" cy="187.8" r="1.55"/><circle cx="201.8" cy="187.8" r="1.55"/><circle cx="202.7" cy="187.8" r="1.55"/><circle cx="203.6" cy="187.8" r="1.55"/><circle cx="204.4" cy="187.8" r="1.55"/><circle cx="205.3" cy="187.8" r="1.55"/><circle cx="206.1" cy="187.8" r="1.55"/><circle cx="207.0" cy="187.8" r="1.55"/><circle cx="207.8" cy="187.8" r="1.55"/><circle cx="208.7" cy="187.8" r="1.55"/></g>
<g fill="#2a2a2a" fill-opacity="0.44000000000000006"><circle cx="190.7" cy="199.2" r="1.55"/><circle cx="191.6" cy="199.2" r="1.55"/><circle cx="192.4" cy="199.2" r="1.55"/><circle cx="193.3" cy="199.2" r="1.55"/><circle cx="194.1" cy="199.2" r="1.55"/><circle cx="195.0" cy="199.2" r="1.55"/><circle cx="195.8" cy="199.2" r="1.55"/><circle cx="196.7" cy="199.2" r="1.55"/><circle cx="197.6" cy="199.2" r="1.55"/><circle cx="198.4" cy="199.2" r="1.55"/><circle cx="199.3" cy="199.2" r="1.55"/><circle cx="200.1" cy="199.2" r="1.55"/><circle cx="201.0" cy="199.2" r="1.55"/><circle cx="201.8" cy="199.2" r="1.55"/><circle cx="202.7" cy="199.2" r="1.55"/><circle cx="203.6" cy="199.2" r="1.55"/><circle cx="204.4" cy="199.2" r="1.55"/><circle cx="205.3" cy="199.2" r="1.55"/><circle cx="206.1" cy="199.2" r="1.55"/><circle cx="207.0" cy="199.2" r="1.55"/><circle cx="207.8" cy="199.2" r="1.55"/><circle cx="208.7" cy="199.2" r="1.55"/></g>
<g fill="#2a2a2a" fill-opacity="0.44000000000000006"><circle cx="190.7" cy="210.5" r="1.55"/><circle cx="191.6" cy="210.5" r="1.55"/><circle cx="192.4" cy="210.5" r="1.55"/><circle cx="193.3" cy="210.5" r="1.55"/><circle cx="194.1" cy="210.5" r="1.55"/><circle cx="195.0" cy="210.5" r="1.55"/><circle cx="195.8" cy="210.5" r="1.55"/><circle cx="196.7" cy="210.5" r="1.55"/><circle cx="197.6" cy="210.5" r="1.55"/><circle cx="198.4" cy="210.5" r="1.55"/><circle cx="199.3" cy="210.5" r="1.55"/><circle cx="200.1" cy="210.5" r="1.55"/><circle cx="201.0" cy="210.5" r="1.55"/><circle cx="201.8" cy="210.5" r="1.55"/><circle cx="202.7" cy="210.5" r="1.55"/><circle cx="203.6" cy="210.5" r="1.55"/><circle cx="204.4" cy="210.5" r="1.55"/><circle cx="205.3" cy="210.5" r="1.55"/><circle cx="206.1" cy="210.5" r="1.55"/><circle cx="207.0" cy="210.5" r="1.55"/><circle cx="207.8" cy="210.5" r="1.55"/><circle cx="208.7" cy="210.5" r="1.55"/></g>
<g fill="#000" fill-opacity="1"><circle cx="227.7" cy="82.3" r="1.55"/><circle cx="227.7" cy="103.2" r="1.55"/><circle cx="221.6" cy="109.7" r="1.55"/><circle cx="227.7" cy="109.7" r="1.55"/><circle cx="234.1" cy="107.5" r="1.55"/><circle cx="221.6" cy="113.6" r="1.55"/><circle cx="234.1" cy="111.5" r="1.55"/></g>
<g fill="#000" fill-opacity="1"><circle cx="221.6" cy="119.7" r="1.55"/><circle cx="227.8" cy="119.7" r="1.55"/><circle cx="234.1" cy="119.7" r="1.55"/></g>
<g fill="#000" fill-opacity="1"><circle cx="219.2" cy="131.1" r="1.55"/><circle cx="222.0" cy="131.1" r="1.55"/><circle cx="224.8" cy="131.1" r="1.55"/><circle cx="227.7" cy="131.1" r="1.55"/><circle cx="230.5" cy="131.1" r="1.55"/><circle cx="233.3" cy="131.1" r="1.55"/><circle cx="236.1" cy="131.1" r="1.55"/></g>
<g fill="#000" fill-opacity="1"><circle cx="219.2" cy="142.4" r="1.55"/><circle cx="224.8" cy="142.4" r="1.55"/><circle cx="230.5" cy="142.4" r="1.55"/><circle cx="236.1" cy="142.4" r="1.55"/></g>
<g fill="#000" fill-opacity="1"><circle cx="219.2" cy="165.1" r="1.55"/><circle cx="223.4" cy="165.1" r="1.55"/><circle cx="227.7" cy="165.1" r="1.55"/><circle cx="231.9" cy="165.1" r="1.55"/><circle cx="236.1" cy="165.1" r="1.55"/></g>
<g fill="#000" fill-opacity="1"><circle cx="218.5" cy="153.8" r="1.55"/><circle cx="220.2" cy="153.8" r="1.55"/><circle cx="221.8" cy="153.8" r="1.55"/><circle cx="223.5" cy="153.8" r="1.55"/><circle cx="225.2" cy="153.8" r="1.55"/><circle cx="226.9" cy="153.8" r="1.55"/><circle cx="228.5" cy="153.8" r="1.55"/><circle cx="230.2" cy="153.8" r="1.55"/><circle cx="231.9" cy="153.8" r="1.55"/><circle cx="233.6" cy="153.8" r="1.55"/><circle cx="235.2" cy="153.8" r="1.55"/><circle cx="236.9" cy="153.8" r="1.55"/></g>
<g fill="#000" fill-opacity="1"><circle cx="218.5" cy="176.4" r="1.55"/><circle cx="220.2" cy="176.4" r="1.55"/><circle cx="221.8" cy="176.4" r="1.55"/><circle cx="223.5" cy="176.4" r="1.55"/><circle cx="225.2" cy="176.4" r="1.55"/><circle cx="226.9" cy="176.4" r="1.55"/><circle cx="228.5" cy="176.4" r="1.55"/><circle cx="230.2" cy="176.4" r="1.55"/><circle cx="231.9" cy="176.4" r="1.55"/><circle cx="233.6" cy="176.4" r="1.55"/><circle cx="235.2" cy="176.4" r="1.55"/><circle cx="236.9" cy="176.4" r="1.55"/></g>
<g fill="#000" fill-opacity="1"><circle cx="218.5" cy="187.8" r="1.55"/><circle cx="220.2" cy="187.8" r="1.55"/><circle cx="221.8" cy="187.8" r="1.55"/><circle cx="223.5" cy="187.8" r="1.55"/><circle cx="225.2" cy="187.8" r="1.55"/><circle cx="226.9" cy="187.8" r="1.55"/><circle cx="228.5" cy="187.8" r="1.55"/><circle cx="230.2" cy="187.8" r="1.55"/><circle cx="231.9" cy="187.8" r="1.55"/><circle cx="233.6" cy="187.8" r="1.55"/><circle cx="235.2" cy="187.8" r="1.55"/><circle cx="236.9" cy="187.8" r="1.55"/></g>
<g fill="#000" fill-opacity="1"><circle cx="218.5" cy="199.2" r="1.55"/><circle cx="220.2" cy="199.2" r="1.55"/><circle cx="221.8" cy="199.2" r="1.55"/><circle cx="223.5" cy="199.2" r="1.55"/><circle cx="225.2" cy="199.2" r="1.55"/><circle cx="226.9" cy="199.2" r="1.55"/><circle cx="228.5" cy="199.2" r="1.55"/><circle cx="230.2" cy="199.2" r="1.55"/><circle cx="231.9" cy="199.2" r="1.55"/><circle cx="233.6" cy="199.2" r="1.55"/><circle cx="235.2" cy="199.2" r="1.55"/><circle cx="236.9" cy="199.2" r="1.55"/></g>
<g fill="#000" fill-opacity="1"><circle cx="218.5" cy="210.5" r="1.55"/><circle cx="220.2" cy="210.5" r="1.55"/><circle cx="221.8" cy="210.5" r="1.55"/><circle cx="223.5" cy="210.5" r="1.55"/><circle cx="225.2" cy="210.5" r="1.55"/><circle cx="226.9" cy="210.5" r="1.55"/><circle cx="228.5" cy="210.5" r="1.55"/><circle cx="230.2" cy="210.5" r="1.55"/><circle cx="231.9" cy="210.5" r="1.55"/><circle cx="233.6" cy="210.5" r="1.55"/><circle cx="235.2" cy="210.5" r="1.55"/><circle cx="236.9" cy="210.5" r="1.55"/></g>
<g fill="#46a582" fill-opacity="0.5"><circle cx="255.7" cy="99.2" r="1.55"/><circle cx="255.7" cy="107.5" r="1.55"/><circle cx="252.6" cy="111.5" r="1.55"/><circle cx="258.8" cy="111.5" r="1.55"/><circle cx="252.6" cy="119.7" r="1.55"/><circle cx="258.8" cy="119.7" r="1.55"/></g>
<g fill="#46a582" fill-opacity="0.4"><circle cx="246.7" cy="131.1" r="1.55"/><circle cx="247.6" cy="131.1" r="1.55"/><circle cx="248.4" cy="131.1" r="1.55"/><circle cx="249.3" cy="131.1" r="1.55"/><circle cx="250.1" cy="131.1" r="1.55"/><circle cx="251.0" cy="131.1" r="1.55"/><circle cx="251.8" cy="131.1" r="1.55"/><circle cx="252.7" cy="131.1" r="1.55"/><circle cx="253.6" cy="131.1" r="1.55"/><circle cx="254.4" cy="131.1" r="1.55"/><circle cx="255.3" cy="131.1" r="1.55"/><circle cx="256.1" cy="131.1" r="1.55"/><circle cx="257.0" cy="131.1" r="1.55"/><circle cx="257.8" cy="131.1" r="1.55"/><circle cx="258.7" cy="131.1" r="1.55"/><circle cx="259.6" cy="131.1" r="1.55"/><circle cx="260.4" cy="131.1" r="1.55"/><circle cx="261.3" cy="131.1" r="1.55"/><circle cx="262.1" cy="131.1" r="1.55"/><circle cx="263.0" cy="131.1" r="1.55"/><circle cx="263.8" cy="131.1" r="1.55"/><circle cx="264.7" cy="131.1" r="1.55"/></g>
<g fill="#46a582" fill-opacity="0.4"><circle cx="246.7" cy="142.4" r="1.55"/><circle cx="247.6" cy="142.4" r="1.55"/><circle cx="248.4" cy="142.4" r="1.55"/><circle cx="249.3" cy="142.4" r="1.55"/><circle cx="250.1" cy="142.4" r="1.55"/><circle cx="251.0" cy="142.4" r="1.55"/><circle cx="251.8" cy="142.4" r="1.55"/><circle cx="252.7" cy="142.4" r="1.55"/><circle cx="253.6" cy="142.4" r="1.55"/><circle cx="254.4" cy="142.4" r="1.55"/><circle cx="255.3" cy="142.4" r="1.55"/><circle cx="256.1" cy="142.4" r="1.55"/><circle cx="257.0" cy="142.4" r="1.55"/><circle cx="257.8" cy="142.4" r="1.55"/><circle cx="258.7" cy="142.4" r="1.55"/><circle cx="259.6" cy="142.4" r="1.55"/><circle cx="260.4" cy="142.4" r="1.55"/><circle cx="261.3" cy="142.4" r="1.55"/><circle cx="262.1" cy="142.4" r="1.55"/><circle cx="263.0" cy="142.4" r="1.55"/><circle cx="263.8" cy="142.4" r="1.55"/><circle cx="264.7" cy="142.4" r="1.55"/></g>
<g fill="#46a582" fill-opacity="0.5"><circle cx="247.2" cy="153.8" r="1.55"/><circle cx="250.1" cy="153.8" r="1.55"/><circle cx="252.9" cy="153.8" r="1.55"/><circle cx="255.7" cy="153.8" r="1.55"/><circle cx="258.5" cy="153.8" r="1.55"/><circle cx="261.3" cy="153.8" r="1.55"/><circle cx="264.1" cy="153.8" r="1.55"/></g>
<g fill="#46a582" fill-opacity="0.2"><circle cx="246.7" cy="165.1" r="1.55"/><circle cx="247.6" cy="165.1" r="1.55"/><circle cx="248.6" cy="165.1" r="1.55"/><circle cx="249.5" cy="165.1" r="1.55"/><circle cx="250.5" cy="165.1" r="1.55"/><circle cx="251.4" cy="165.1" r="1.55"/><circle cx="252.4" cy="165.1" r="1.55"/><circle cx="253.3" cy="165.1" r="1.55"/><circle cx="254.3" cy="165.1" r="1.55"/><circle cx="255.2" cy="165.1" r="1.55"/><circle cx="256.2" cy="165.1" r="1.55"/><circle cx="257.1" cy="165.1" r="1.55"/><circle cx="258.1" cy="165.1" r="1.55"/><circle cx="259.0" cy="165.1" r="1.55"/><circle cx="260.0" cy="165.1" r="1.55"/><circle cx="260.9" cy="165.1" r="1.55"/><circle cx="261.9" cy="165.1" r="1.55"/><circle cx="262.8" cy="165.1" r="1.55"/><circle cx="263.8" cy="165.1" r="1.55"/><circle cx="264.7" cy="165.1" r="1.55"/></g>
<g fill="#46a582" fill-opacity="0.5"><circle cx="246.7" cy="176.4" r="1.55"/><circle cx="264.7" cy="176.4" r="1.55"/></g>
<g fill="#46a582" fill-opacity="0.4"><circle cx="246.7" cy="187.8" r="1.55"/><circle cx="247.6" cy="187.8" r="1.55"/><circle cx="248.4" cy="187.8" r="1.55"/><circle cx="249.3" cy="187.8" r="1.55"/><circle cx="250.1" cy="187.8" r="1.55"/><circle cx="251.0" cy="187.8" r="1.55"/><circle cx="251.8" cy="187.8" r="1.55"/><circle cx="252.7" cy="187.8" r="1.55"/><circle cx="253.6" cy="187.8" r="1.55"/><circle cx="254.4" cy="187.8" r="1.55"/><circle cx="255.3" cy="187.8" r="1.55"/><circle cx="256.1" cy="187.8" r="1.55"/><circle cx="257.0" cy="187.8" r="1.55"/><circle cx="257.8" cy="187.8" r="1.55"/><circle cx="258.7" cy="187.8" r="1.55"/><circle cx="259.6" cy="187.8" r="1.55"/><circle cx="260.4" cy="187.8" r="1.55"/><circle cx="261.3" cy="187.8" r="1.55"/><circle cx="262.1" cy="187.8" r="1.55"/><circle cx="263.0" cy="187.8" r="1.55"/><circle cx="263.8" cy="187.8" r="1.55"/><circle cx="264.7" cy="187.8" r="1.55"/></g>
<g fill="#46a582" fill-opacity="0.4"><circle cx="246.7" cy="199.2" r="1.55"/><circle cx="247.6" cy="199.2" r="1.55"/><circle cx="248.4" cy="199.2" r="1.55"/><circle cx="249.3" cy="199.2" r="1.55"/><circle cx="250.1" cy="199.2" r="1.55"/><circle cx="251.0" cy="199.2" r="1.55"/><circle cx="251.8" cy="199.2" r="1.55"/><circle cx="252.7" cy="199.2" r="1.55"/><circle cx="253.6" cy="199.2" r="1.55"/><circle cx="254.4" cy="199.2" r="1.55"/><circle cx="255.3" cy="199.2" r="1.55"/><circle cx="256.1" cy="199.2" r="1.55"/><circle cx="257.0" cy="199.2" r="1.55"/><circle cx="257.8" cy="199.2" r="1.55"/><circle cx="258.7" cy="199.2" r="1.55"/><circle cx="259.6" cy="199.2" r="1.55"/><circle cx="260.4" cy="199.2" r="1.55"/><circle cx="261.3" cy="199.2" r="1.55"/><circle cx="262.1" cy="199.2" r="1.55"/><circle cx="263.0" cy="199.2" r="1.55"/><circle cx="263.8" cy="199.2" r="1.55"/><circle cx="264.7" cy="199.2" r="1.55"/></g>
<g fill="#46a582" fill-opacity="0.4"><circle cx="246.7" cy="210.5" r="1.55"/><circle cx="247.6" cy="210.5" r="1.55"/><circle cx="248.4" cy="210.5" r="1.55"/><circle cx="249.3" cy="210.5" r="1.55"/><circle cx="250.1" cy="210.5" r="1.55"/><circle cx="251.0" cy="210.5" r="1.55"/><circle cx="251.8" cy="210.5" r="1.55"/><circle cx="252.7" cy="210.5" r="1.55"/><circle cx="253.6" cy="210.5" r="1.55"/><circle cx="254.4" cy="210.5" r="1.55"/><circle cx="255.3" cy="210.5" r="1.55"/><circle cx="256.1" cy="210.5" r="1.55"/><circle cx="257.0" cy="210.5" r="1.55"/><circle cx="257.8" cy="210.5" r="1.55"/><circle cx="258.7" cy="210.5" r="1.55"/><circle cx="259.6" cy="210.5" r="1.55"/><circle cx="260.4" cy="210.5" r="1.55"/><circle cx="261.3" cy="210.5" r="1.55"/><circle cx="262.1" cy="210.5" r="1.55"/><circle cx="263.0" cy="210.5" r="1.55"/><circle cx="263.8" cy="210.5" r="1.55"/><circle cx="264.7" cy="210.5" r="1.55"/></g>
<g fill="#e5391c" fill-opacity="0.92"><circle cx="283.4" cy="119.7" r="1.55"/><circle cx="283.4" cy="131.3" r="1.55"/><circle cx="280.3" cy="153.7" r="1.55"/><circle cx="286.8" cy="153.7" r="1.55"/><circle cx="280.3" cy="165.1" r="1.55"/><circle cx="286.8" cy="165.1" r="1.55"/><circle cx="277.2" cy="176.7" r="1.55"/><circle cx="283.5" cy="176.7" r="1.55"/><circle cx="290.0" cy="176.7" r="1.55"/></g>
<g fill="#e5391c" fill-opacity="0.92"><circle cx="275.1" cy="187.8" r="1.55"/><circle cx="279.4" cy="187.8" r="1.55"/><circle cx="283.6" cy="187.8" r="1.55"/><circle cx="287.9" cy="187.8" r="1.55"/><circle cx="292.2" cy="187.8" r="1.55"/></g>
<g fill="#e5391c" fill-opacity="0.7360000000000001"><circle cx="274.9" cy="199.2" r="1.55"/><circle cx="275.7" cy="199.2" r="1.55"/><circle cx="276.6" cy="199.2" r="1.55"/><circle cx="277.4" cy="199.2" r="1.55"/><circle cx="278.3" cy="199.2" r="1.55"/><circle cx="279.1" cy="199.2" r="1.55"/><circle cx="279.9" cy="199.2" r="1.55"/><circle cx="280.8" cy="199.2" r="1.55"/><circle cx="281.6" cy="199.2" r="1.55"/><circle cx="282.4" cy="199.2" r="1.55"/><circle cx="283.3" cy="199.2" r="1.55"/><circle cx="284.1" cy="199.2" r="1.55"/><circle cx="285.0" cy="199.2" r="1.55"/><circle cx="285.8" cy="199.2" r="1.55"/><circle cx="286.6" cy="199.2" r="1.55"/><circle cx="287.5" cy="199.2" r="1.55"/><circle cx="288.3" cy="199.2" r="1.55"/><circle cx="289.1" cy="199.2" r="1.55"/><circle cx="290.0" cy="199.2" r="1.55"/><circle cx="290.8" cy="199.2" r="1.55"/><circle cx="291.7" cy="199.2" r="1.55"/><circle cx="292.5" cy="199.2" r="1.55"/></g>
<g fill="#e5391c" fill-opacity="0.7360000000000001"><circle cx="274.9" cy="210.5" r="1.55"/><circle cx="275.7" cy="210.5" r="1.55"/><circle cx="276.6" cy="210.5" r="1.55"/><circle cx="277.4" cy="210.5" r="1.55"/><circle cx="278.3" cy="210.5" r="1.55"/><circle cx="279.1" cy="210.5" r="1.55"/><circle cx="279.9" cy="210.5" r="1.55"/><circle cx="280.8" cy="210.5" r="1.55"/><circle cx="281.6" cy="210.5" r="1.55"/><circle cx="282.4" cy="210.5" r="1.55"/><circle cx="283.3" cy="210.5" r="1.55"/><circle cx="284.1" cy="210.5" r="1.55"/><circle cx="285.0" cy="210.5" r="1.55"/><circle cx="285.8" cy="210.5" r="1.55"/><circle cx="286.6" cy="210.5" r="1.55"/><circle cx="287.5" cy="210.5" r="1.55"/><circle cx="288.3" cy="210.5" r="1.55"/><circle cx="289.1" cy="210.5" r="1.55"/><circle cx="290.0" cy="210.5" r="1.55"/><circle cx="290.8" cy="210.5" r="1.55"/><circle cx="291.7" cy="210.5" r="1.55"/><circle cx="292.5" cy="210.5" r="1.55"/></g>
<g fill="#3ce128" fill-opacity="0.55"><circle cx="311.7" cy="142.4" r="1.55"/><circle cx="308.5" cy="153.7" r="1.55"/><circle cx="315.0" cy="153.7" r="1.55"/></g>
<g fill="#3ce128" fill-opacity="0.22000000000000003"><circle cx="302.4" cy="176.4" r="1.55"/><circle cx="303.3" cy="176.4" r="1.55"/><circle cx="304.3" cy="176.4" r="1.55"/><circle cx="305.2" cy="176.4" r="1.55"/><circle cx="306.2" cy="176.4" r="1.55"/><circle cx="307.1" cy="176.4" r="1.55"/><circle cx="308.1" cy="176.4" r="1.55"/><circle cx="309.0" cy="176.4" r="1.55"/><circle cx="310.0" cy="176.4" r="1.55"/><circle cx="310.9" cy="176.4" r="1.55"/><circle cx="311.9" cy="176.4" r="1.55"/><circle cx="312.8" cy="176.4" r="1.55"/><circle cx="313.8" cy="176.4" r="1.55"/><circle cx="314.7" cy="176.4" r="1.55"/><circle cx="315.7" cy="176.4" r="1.55"/><circle cx="316.6" cy="176.4" r="1.55"/><circle cx="317.6" cy="176.4" r="1.55"/><circle cx="318.5" cy="176.4" r="1.55"/><circle cx="319.5" cy="176.4" r="1.55"/><circle cx="320.4" cy="176.4" r="1.55"/></g>
<g fill="#3ce128" fill-opacity="0.22000000000000003"><circle cx="302.4" cy="187.8" r="1.55"/><circle cx="303.3" cy="187.8" r="1.55"/><circle cx="304.3" cy="187.8" r="1.55"/><circle cx="305.2" cy="187.8" r="1.55"/><circle cx="306.2" cy="187.8" r="1.55"/><circle cx="307.1" cy="187.8" r="1.55"/><circle cx="308.1" cy="187.8" r="1.55"/><circle cx="309.0" cy="187.8" r="1.55"/><circle cx="310.0" cy="187.8" r="1.55"/><circle cx="310.9" cy="187.8" r="1.55"/><circle cx="311.9" cy="187.8" r="1.55"/><circle cx="312.8" cy="187.8" r="1.55"/><circle cx="313.8" cy="187.8" r="1.55"/><circle cx="314.7" cy="187.8" r="1.55"/><circle cx="315.7" cy="187.8" r="1.55"/><circle cx="316.6" cy="187.8" r="1.55"/><circle cx="317.6" cy="187.8" r="1.55"/><circle cx="318.5" cy="187.8" r="1.55"/><circle cx="319.5" cy="187.8" r="1.55"/><circle cx="320.4" cy="187.8" r="1.55"/></g>
<g fill="#3ce128" fill-opacity="0.44000000000000006"><circle cx="302.4" cy="199.2" r="1.55"/><circle cx="303.3" cy="199.2" r="1.55"/><circle cx="304.1" cy="199.2" r="1.55"/><circle cx="305.0" cy="199.2" r="1.55"/><circle cx="305.8" cy="199.2" r="1.55"/><circle cx="306.7" cy="199.2" r="1.55"/><circle cx="307.5" cy="199.2" r="1.55"/><circle cx="308.4" cy="199.2" r="1.55"/><circle cx="309.3" cy="199.2" r="1.55"/><circle cx="310.1" cy="199.2" r="1.55"/><circle cx="311.0" cy="199.2" r="1.55"/><circle cx="311.8" cy="199.2" r="1.55"/><circle cx="312.7" cy="199.2" r="1.55"/><circle cx="313.5" cy="199.2" r="1.55"/><circle cx="314.4" cy="199.2" r="1.55"/><circle cx="315.3" cy="199.2" r="1.55"/><circle cx="316.1" cy="199.2" r="1.55"/><circle cx="317.0" cy="199.2" r="1.55"/><circle cx="317.8" cy="199.2" r="1.55"/><circle cx="318.7" cy="199.2" r="1.55"/><circle cx="319.5" cy="199.2" r="1.55"/><circle cx="320.4" cy="199.2" r="1.55"/></g>
<g fill="#3ce128" fill-opacity="0.44000000000000006"><circle cx="302.4" cy="210.5" r="1.55"/><circle cx="303.3" cy="210.5" r="1.55"/><circle cx="304.1" cy="210.5" r="1.55"/><circle cx="305.0" cy="210.5" r="1.55"/><circle cx="305.8" cy="210.5" r="1.55"/><circle cx="306.7" cy="210.5" r="1.55"/><circle cx="307.5" cy="210.5" r="1.55"/><circle cx="308.4" cy="210.5" r="1.55"/><circle cx="309.3" cy="210.5" r="1.55"/><circle cx="310.1" cy="210.5" r="1.55"/><circle cx="311.0" cy="210.5" r="1.55"/><circle cx="311.8" cy="210.5" r="1.55"/><circle cx="312.7" cy="210.5" r="1.55"/><circle cx="313.5" cy="210.5" r="1.55"/><circle cx="314.4" cy="210.5" r="1.55"/><circle cx="315.3" cy="210.5" r="1.55"/><circle cx="316.1" cy="210.5" r="1.55"/><circle cx="317.0" cy="210.5" r="1.55"/><circle cx="317.8" cy="210.5" r="1.55"/><circle cx="318.7" cy="210.5" r="1.55"/><circle cx="319.5" cy="210.5" r="1.55"/><circle cx="320.4" cy="210.5" r="1.55"/></g>
<line x1="190.1" y1="176.4" x2="209.3" y2="176.4" stroke="#2b2fd0" stroke-width="3.1" stroke-opacity="0.45" stroke-linecap="round"/>
<line x1="187.10" y1="176.45" x2="212.30" y2="176.45" stroke="#2b2fd0" stroke-width="1.3"/>
<line x1="218.1" y1="176.4" x2="237.3" y2="176.4" stroke="#2b2fd0" stroke-width="3.1" stroke-opacity="0.45" stroke-linecap="round"/>
<line x1="215.10" y1="176.45" x2="240.30" y2="176.45" stroke="#2b2fd0" stroke-width="1.3"/>
<line x1="243.10" y1="176.45" x2="268.30" y2="176.45" stroke="#2b2fd0" stroke-width="1.3"/>
<line x1="274.0" y1="210.5" x2="293.2" y2="210.5" stroke="#2b2fd0" stroke-width="3.1" stroke-opacity="0.45" stroke-linecap="round"/>
<line x1="271.00" y1="210.50" x2="296.20" y2="210.50" stroke="#2b2fd0" stroke-width="1.3"/>
<line x1="302.0" y1="210.5" x2="321.2" y2="210.5" stroke="#2b2fd0" stroke-width="3.1" stroke-opacity="0.45" stroke-linecap="round"/>
<line x1="299.00" y1="210.50" x2="324.20" y2="210.50" stroke="#2b2fd0" stroke-width="1.3"/>
<polyline points="197.8,91.9 197.8,77.4 225.7,77.4 225.7,79.5" fill="none" stroke="#606060" stroke-width="0.95"/>
<text x="213.30" y="75.70" font-size="14" text-anchor="middle" fill="#111">ns</text>
<polyline points="197.8,71.6 197.8,66.4 253.6,66.4 253.6,82.0" fill="none" stroke="#606060" stroke-width="0.95"/>
<text x="229.80" y="64.70" font-size="14" text-anchor="middle" fill="#111">ns</text>
<polyline points="225.4,58.0 225.4,54.0 280.1,54.0 280.1,79.0" fill="none" stroke="#606060" stroke-width="0.95"/>
<text x="257.00" y="58.10" font-size="12.5" font-weight="bold" letter-spacing="0.39" text-anchor="middle" fill="#111">****</text>
<polyline points="226.3,51.6 226.3,47.1 307.6,47.1 307.6,79.0" fill="none" stroke="#606060" stroke-width="0.95"/>
<text x="272.40" y="50.50" font-size="12.5" font-weight="bold" letter-spacing="0.39" text-anchor="middle" fill="#111">****</text>
<polyline points="252.5,92.5 252.5,91.6 307.4,91.6 307.4,104.8" fill="none" stroke="#606060" stroke-width="0.95"/>
<text x="283.40" y="93.40" font-size="12.5" font-weight="bold" letter-spacing="0.39" text-anchor="middle" fill="#111">****</text>
<polyline points="280.0,113.3 280.0,109.4 307.4,109.4 307.4,136.0" fill="none" stroke="#606060" stroke-width="0.95"/>
<text x="297.70" y="107.20" font-size="14" text-anchor="middle" fill="#111">ns</text>
<text x="206.80" y="268.50" font-size="13.5" text-anchor="end" transform="rotate(-45 206.80 268.50)" fill="#111">WT</text>
<text x="239.50" y="261.70" font-size="13.5" text-anchor="end" transform="rotate(-45 239.50 261.70)" fill="#111">Cas9</text>
<text x="270.30" y="259.20" font-size="13.5" text-anchor="end" transform="rotate(-45 270.30 259.20)" font-style="italic" fill="#111">GFP-L</text>
<text x="296.50" y="260.40" font-size="13.5" text-anchor="end" transform="rotate(-45 296.50 260.40)" font-style="italic" fill="#111">RFP-Q</text>
<text x="325.50" y="261.00" font-size="13.5" text-anchor="end" transform="rotate(-45 325.50 261.00)" font-style="italic" fill="#111">GFP-Q</text>
<line x1="521.30" y1="118.90" x2="521.30" y2="217.30" stroke="#222" stroke-width="1.0"/>
<line x1="521.30" y1="80.50" x2="521.30" y2="112.70" stroke="#222" stroke-width="1.0"/>
<line x1="518.30" y1="217.30" x2="521.30" y2="217.30" stroke="#222" stroke-width="0.9"/>
<line x1="518.30" y1="184.50" x2="521.30" y2="184.50" stroke="#222" stroke-width="0.9"/>
<line x1="518.30" y1="151.70" x2="521.30" y2="151.70" stroke="#222" stroke-width="0.9"/>
<line x1="518.70" y1="118.90" x2="522.90" y2="118.90" stroke="#222" stroke-width="0.9"/>
<line x1="518.70" y1="112.70" x2="522.90" y2="112.70" stroke="#222" stroke-width="0.9"/>
<line x1="518.30" y1="98.06" x2="521.30" y2="98.06" stroke="#222" stroke-width="0.9"/>
<line x1="518.30" y1="83.42" x2="521.30" y2="83.42" stroke="#222" stroke-width="0.9"/>
<line x1="519.60" y1="105.38" x2="521.30" y2="105.38" stroke="#222" stroke-width="0.9"/>
<line x1="519.60" y1="90.74" x2="521.30" y2="90.74" stroke="#222" stroke-width="0.9"/>
<text x="514.10" y="221.55" font-size="13.5" text-anchor="end" fill="#111">0</text>
<text x="514.10" y="188.75" font-size="13.5" text-anchor="end" fill="#111">2</text>
<text x="514.10" y="155.75" font-size="13.5" text-anchor="end" fill="#111">4</text>
<text x="514.10" y="115.85" font-size="13.5" text-anchor="end" fill="#111">6</text>
<text x="517.40" y="100.45" font-size="13.5" text-anchor="end" fill="#111">10</text>
<text x="517.40" y="86.75" font-size="13.5" text-anchor="end" fill="#111">14</text>
<text x="499.4" y="148.8" font-size="13.9" text-anchor="middle" transform="rotate(-90 499.4 148.8)" fill="#111"><tspan font-style="italic">Pf</tspan> Sporozoites/SGs (x10<tspan font-size="9.3" dy="-5">3</tspan><tspan dy="5">)</tspan></text>
<line x1="530.10" y1="225.40" x2="667.50" y2="225.40" stroke="#666" stroke-width="0.9"/>
<line x1="541.60" y1="225.40" x2="541.60" y2="228.00" stroke="#666" stroke-width="0.9"/>
<line x1="570.20" y1="225.40" x2="570.20" y2="228.00" stroke="#666" stroke-width="0.9"/>
<line x1="598.40" y1="225.40" x2="598.40" y2="228.00" stroke="#666" stroke-width="0.9"/>
<line x1="627.20" y1="225.40" x2="627.20" y2="228.00" stroke="#666" stroke-width="0.9"/>
<line x1="655.60" y1="225.40" x2="655.60" y2="228.00" stroke="#666" stroke-width="0.9"/>
<text x="540.10" y="240.00" font-size="13.5" text-anchor="middle" fill="#111">40</text>
<text x="571.80" y="240.00" font-size="13.5" text-anchor="middle" fill="#111">40</text>
<text x="599.50" y="240.00" font-size="13.5" text-anchor="middle" fill="#111">40</text>
<text x="627.00" y="240.00" font-size="13.5" text-anchor="middle" fill="#111">40</text>
<text x="658.50" y="240.00" font-size="13.5" text-anchor="middle" fill="#111">40</text>
<line x1="528.00" y1="246.50" x2="672.60" y2="246.50" stroke="#555" stroke-width="0.8"/>
<g fill="#2a2a2a" fill-opacity="0.55"><circle cx="534.5" cy="104.6" r="1.55"/><circle cx="534.5" cy="107.1" r="1.55"/><circle cx="541.7" cy="104.9" r="1.55"/><circle cx="548.7" cy="103.6" r="1.55"/><circle cx="548.7" cy="106.1" r="1.55"/><circle cx="548.7" cy="108.3" r="1.55"/><circle cx="539.2" cy="108.8" r="1.55"/><circle cx="544.2" cy="110.4" r="1.55"/><circle cx="534.5" cy="111.7" r="1.55"/><circle cx="541.5" cy="119.1" r="1.55"/><circle cx="541.5" cy="122.0" r="1.55"/><circle cx="534.5" cy="125.9" r="1.55"/><circle cx="548.7" cy="124.3" r="1.55"/><circle cx="538.6" cy="134.4" r="1.55"/><circle cx="544.8" cy="134.4" r="1.55"/><circle cx="538.6" cy="139.0" r="1.55"/><circle cx="544.8" cy="139.0" r="1.55"/><circle cx="538.6" cy="142.7" r="1.55"/><circle cx="544.8" cy="142.7" r="1.55"/><circle cx="534.5" cy="158.0" r="1.55"/><circle cx="538.0" cy="158.0" r="1.55"/><circle cx="541.4" cy="158.0" r="1.55"/><circle cx="544.9" cy="158.0" r="1.55"/><circle cx="534.5" cy="161.1" r="1.55"/><circle cx="538.0" cy="161.1" r="1.55"/><circle cx="541.4" cy="161.1" r="1.55"/><circle cx="544.9" cy="161.1" r="1.55"/><circle cx="548.7" cy="157.5" r="1.55"/><circle cx="548.7" cy="163.6" r="1.55"/><circle cx="541.7" cy="173.3" r="1.55"/><circle cx="538.2" cy="177.9" r="1.55"/><circle cx="545.1" cy="177.9" r="1.55"/><circle cx="541.7" cy="180.1" r="1.55"/><circle cx="534.5" cy="183.1" r="1.55"/><circle cx="548.7" cy="183.1" r="1.55"/></g>
<g fill="#2a2a2a" fill-opacity="0.55"><circle cx="534.8" cy="217.3" r="1.55"/><circle cx="538.2" cy="217.3" r="1.55"/><circle cx="541.6" cy="217.3" r="1.55"/><circle cx="545.0" cy="217.3" r="1.55"/><circle cx="548.4" cy="217.3" r="1.55"/></g>
<g fill="#000" fill-opacity="1"><circle cx="570.5" cy="79.9" r="1.55"/><circle cx="570.5" cy="85.4" r="1.55"/><circle cx="570.3" cy="91.2" r="1.55"/><circle cx="563.1" cy="91.3" r="1.55"/><circle cx="577.6" cy="91.3" r="1.55"/><circle cx="570.3" cy="97.8" r="1.55"/><circle cx="563.1" cy="100.1" r="1.55"/><circle cx="577.6" cy="99.3" r="1.55"/><circle cx="566.9" cy="104.6" r="1.55"/><circle cx="573.3" cy="103.6" r="1.55"/><circle cx="563.1" cy="107.3" r="1.55"/><circle cx="577.7" cy="106.3" r="1.55"/><circle cx="572.7" cy="109.2" r="1.55"/><circle cx="566.9" cy="111.7" r="1.55"/><circle cx="570.2" cy="119.1" r="1.55"/><circle cx="566.9" cy="125.7" r="1.55"/><circle cx="573.3" cy="124.5" r="1.55"/><circle cx="570.2" cy="139.0" r="1.55"/><circle cx="570.2" cy="143.6" r="1.55"/><circle cx="563.1" cy="158.4" r="1.55"/><circle cx="570.2" cy="157.2" r="1.55"/><circle cx="577.4" cy="158.4" r="1.55"/><circle cx="570.2" cy="163.6" r="1.55"/><circle cx="570.2" cy="168.3" r="1.55"/><circle cx="563.1" cy="180.4" r="1.55"/><circle cx="566.5" cy="177.5" r="1.55"/><circle cx="570.0" cy="177.5" r="1.55"/><circle cx="573.3" cy="177.5" r="1.55"/><circle cx="577.4" cy="180.1" r="1.55"/><circle cx="566.9" cy="197.7" r="1.55"/><circle cx="573.6" cy="197.7" r="1.55"/></g>
<g fill="#000" fill-opacity="1"><circle cx="562.9" cy="217.3" r="1.55"/><circle cx="564.7" cy="217.3" r="1.55"/><circle cx="566.6" cy="217.3" r="1.55"/><circle cx="568.4" cy="217.3" r="1.55"/><circle cx="570.2" cy="217.3" r="1.55"/><circle cx="572.0" cy="217.3" r="1.55"/><circle cx="573.9" cy="217.3" r="1.55"/><circle cx="575.7" cy="217.3" r="1.55"/><circle cx="577.5" cy="217.3" r="1.55"/></g>
<g fill="#46a582" fill-opacity="0.55"><circle cx="598.6" cy="80.1" r="1.55"/><circle cx="598.6" cy="86.9" r="1.55"/><circle cx="591.2" cy="104.9" r="1.55"/><circle cx="596.2" cy="104.9" r="1.55"/><circle cx="601.1" cy="104.9" r="1.55"/><circle cx="606.1" cy="104.9" r="1.55"/><circle cx="593.7" cy="107.7" r="1.55"/><circle cx="598.6" cy="107.7" r="1.55"/><circle cx="603.6" cy="107.7" r="1.55"/><circle cx="591.2" cy="111.7" r="1.55"/><circle cx="596.8" cy="111.7" r="1.55"/><circle cx="603.0" cy="111.7" r="1.55"/><circle cx="606.7" cy="109.8" r="1.55"/><circle cx="601.7" cy="119.1" r="1.55"/><circle cx="595.3" cy="121.8" r="1.55"/><circle cx="595.3" cy="131.9" r="1.55"/><circle cx="601.7" cy="131.9" r="1.55"/><circle cx="601.7" cy="141.1" r="1.55"/><circle cx="595.3" cy="143.9" r="1.55"/><circle cx="591.5" cy="160.1" r="1.55"/><circle cx="598.6" cy="158.4" r="1.55"/><circle cx="605.8" cy="160.1" r="1.55"/><circle cx="598.6" cy="165.5" r="1.55"/><circle cx="591.5" cy="178.9" r="1.55"/><circle cx="598.6" cy="178.1" r="1.55"/><circle cx="605.8" cy="178.7" r="1.55"/><circle cx="598.6" cy="183.1" r="1.55"/><circle cx="595.3" cy="197.7" r="1.55"/><circle cx="602.0" cy="197.7" r="1.55"/><circle cx="598.6" cy="205.2" r="1.55"/></g>
<g fill="#46a582" fill-opacity="0.55"><circle cx="590.9" cy="217.3" r="1.55"/><circle cx="592.0" cy="217.3" r="1.55"/><circle cx="593.2" cy="217.3" r="1.55"/><circle cx="594.4" cy="217.3" r="1.55"/><circle cx="595.6" cy="217.3" r="1.55"/><circle cx="596.8" cy="217.3" r="1.55"/><circle cx="598.0" cy="217.3" r="1.55"/><circle cx="599.2" cy="217.3" r="1.55"/><circle cx="600.4" cy="217.3" r="1.55"/><circle cx="601.6" cy="217.3" r="1.55"/><circle cx="602.8" cy="217.3" r="1.55"/><circle cx="604.0" cy="217.3" r="1.55"/><circle cx="605.2" cy="217.3" r="1.55"/><circle cx="606.4" cy="217.3" r="1.55"/></g>
<g fill="#e5391c" fill-opacity="0.92"><circle cx="627.2" cy="104.2" r="1.55"/><circle cx="627.2" cy="111.1" r="1.55"/><circle cx="627.2" cy="137.4" r="1.55"/><circle cx="627.2" cy="143.9" r="1.55"/><circle cx="627.2" cy="153.9" r="1.55"/><circle cx="627.2" cy="158.4" r="1.55"/><circle cx="627.2" cy="178.1" r="1.55"/><circle cx="620.0" cy="197.7" r="1.55"/><circle cx="627.2" cy="197.7" r="1.55"/><circle cx="634.4" cy="197.7" r="1.55"/><circle cx="624.5" cy="201.7" r="1.55"/><circle cx="634.4" cy="201.7" r="1.55"/><circle cx="620.0" cy="205.2" r="1.55"/><circle cx="629.4" cy="205.2" r="1.55"/></g>
<g fill="#e5391c" fill-opacity="0.92"><circle cx="619.5" cy="217.3" r="1.55"/><circle cx="620.7" cy="217.3" r="1.55"/><circle cx="621.9" cy="217.3" r="1.55"/><circle cx="623.1" cy="217.3" r="1.55"/><circle cx="624.3" cy="217.3" r="1.55"/><circle cx="625.5" cy="217.3" r="1.55"/><circle cx="626.7" cy="217.3" r="1.55"/><circle cx="627.9" cy="217.3" r="1.55"/><circle cx="629.1" cy="217.3" r="1.55"/><circle cx="630.3" cy="217.3" r="1.55"/><circle cx="631.5" cy="217.3" r="1.55"/><circle cx="632.7" cy="217.3" r="1.55"/><circle cx="633.9" cy="217.3" r="1.55"/><circle cx="635.0" cy="217.3" r="1.55"/></g>
<g fill="#3cd828" fill-opacity="0.8"><circle cx="655.5" cy="119.5" r="1.55"/><circle cx="655.5" cy="129.0" r="1.55"/><circle cx="655.5" cy="144.2" r="1.55"/><circle cx="652.2" cy="158.4" r="1.55"/><circle cx="659.1" cy="158.4" r="1.55"/><circle cx="655.5" cy="171.7" r="1.55"/><circle cx="655.5" cy="178.1" r="1.55"/><circle cx="652.2" cy="188.1" r="1.55"/><circle cx="659.1" cy="188.1" r="1.55"/><circle cx="652.2" cy="192.8" r="1.55"/><circle cx="659.1" cy="192.8" r="1.55"/><circle cx="652.2" cy="198.6" r="1.55"/><circle cx="659.1" cy="198.0" r="1.55"/><circle cx="655.5" cy="205.2" r="1.55"/></g>
<g fill="#3cd828" fill-opacity="0.8"><circle cx="647.4" cy="217.3" r="1.55"/><circle cx="648.6" cy="217.3" r="1.55"/><circle cx="649.9" cy="217.3" r="1.55"/><circle cx="651.1" cy="217.3" r="1.55"/><circle cx="652.4" cy="217.3" r="1.55"/><circle cx="653.6" cy="217.3" r="1.55"/><circle cx="654.9" cy="217.3" r="1.55"/><circle cx="656.1" cy="217.3" r="1.55"/><circle cx="657.4" cy="217.3" r="1.55"/><circle cx="658.6" cy="217.3" r="1.55"/><circle cx="659.9" cy="217.3" r="1.55"/><circle cx="661.1" cy="217.3" r="1.55"/><circle cx="662.4" cy="217.3" r="1.55"/><circle cx="663.6" cy="217.3" r="1.55"/></g>
<line x1="530.50" y1="150.60" x2="552.80" y2="150.60" stroke="#3b3be0" stroke-width="1.3"/>
<line x1="559.40" y1="141.50" x2="581.00" y2="141.50" stroke="#3b3be0" stroke-width="1.3"/>
<line x1="587.50" y1="151.10" x2="609.60" y2="151.10" stroke="#3b3be0" stroke-width="1.3"/>
<line x1="619.3" y1="217.3" x2="635.3" y2="217.3" stroke="#2b2fd0" stroke-width="3.1" stroke-opacity="0.45" stroke-linecap="round"/>
<line x1="616.00" y1="217.30" x2="638.30" y2="217.30" stroke="#3b3be0" stroke-width="1.3"/>
<line x1="647.5" y1="217.3" x2="663.5" y2="217.3" stroke="#2b2fd0" stroke-width="3.1" stroke-opacity="0.45" stroke-linecap="round"/>
<line x1="644.10" y1="217.30" x2="667.00" y2="217.30" stroke="#3b3be0" stroke-width="1.3"/>
<polyline points="541.6,90.5 541.6,75.5 570.5,75.5 570.5,77.7" fill="none" stroke="#606060" stroke-width="0.95"/>
<text x="560.50" y="73.30" font-size="14" text-anchor="middle" fill="#111">ns</text>
<polyline points="541.6,68.2 541.6,63.8 598.9,63.8 598.9,68.6" fill="none" stroke="#606060" stroke-width="0.95"/>
<text x="574.40" y="62.30" font-size="14" text-anchor="middle" fill="#111">ns</text>
<polyline points="565.0,51.4 565.0,47.3 628.8,47.3 628.8,52.1" fill="none" stroke="#606060" stroke-width="0.95"/>
<text x="598.00" y="51.10" font-size="12.5" font-weight="bold" letter-spacing="0.39" text-anchor="middle" fill="#111">****</text>
<polyline points="565.0,38.0 565.0,37.2 654.6,37.2 654.6,50.7" fill="none" stroke="#606060" stroke-width="0.95"/>
<text x="610.00" y="38.00" font-size="12.5" font-weight="bold" letter-spacing="0.39" text-anchor="middle" fill="#111">****</text>
<polyline points="597.0,76.0 597.0,75.5 654.6,75.5 654.6,88.6" fill="none" stroke="#606060" stroke-width="0.95"/>
<text x="625.30" y="75.90" font-size="12.5" font-weight="bold" letter-spacing="0.39" text-anchor="middle" fill="#111">****</text>
<polyline points="628.2,101.7 628.2,97.4 655.5,97.4 655.5,105.8" fill="none" stroke="#606060" stroke-width="0.95"/>
<text x="640.00" y="94.40" font-size="14" text-anchor="middle" fill="#111">ns</text>
<text x="549.50" y="266.70" font-size="13.5" text-anchor="end" transform="rotate(-45 549.50 266.70)" fill="#111">WT</text>
<text x="577.50" y="264.00" font-size="13.5" text-anchor="end" transform="rotate(-45 577.50 264.00)" fill="#111">Cas9</text>
<text x="605.30" y="262.30" font-size="13.5" text-anchor="end" transform="rotate(-45 605.30 262.30)" fill="#111">GFP-L</text>
<text x="635.00" y="262.00" font-size="13.5" text-anchor="end" transform="rotate(-45 635.00 262.00)" fill="#111">RFP-Q</text>
<text x="664.30" y="260.50" font-size="13.5" text-anchor="end" transform="rotate(-45 664.30 260.50)" fill="#111">GFP-Q</text>
<line x1="166.20" y1="358.00" x2="166.20" y2="489.70" stroke="#222" stroke-width="1.0"/>
<line x1="166.20" y1="331.60" x2="166.20" y2="350.00" stroke="#222" stroke-width="1.0"/>
<line x1="163.20" y1="489.70" x2="166.20" y2="489.70" stroke="#222" stroke-width="0.9"/>
<line x1="163.20" y1="463.18" x2="166.20" y2="463.18" stroke="#222" stroke-width="0.9"/>
<line x1="163.20" y1="436.65" x2="166.20" y2="436.65" stroke="#222" stroke-width="0.9"/>
<line x1="163.20" y1="410.12" x2="166.20" y2="410.12" stroke="#222" stroke-width="0.9"/>
<line x1="163.20" y1="383.60" x2="166.20" y2="383.60" stroke="#222" stroke-width="0.9"/>
<line x1="163.60" y1="358.00" x2="168.40" y2="358.00" stroke="#222" stroke-width="0.9"/>
<line x1="163.60" y1="350.00" x2="168.00" y2="350.00" stroke="#222" stroke-width="0.9"/>
<line x1="163.20" y1="331.60" x2="166.20" y2="331.60" stroke="#222" stroke-width="0.9"/>
<line x1="164.50" y1="341.10" x2="166.20" y2="341.10" stroke="#222" stroke-width="0.9"/>
<text x="158.00" y="493.30" font-size="13.5" text-anchor="end" fill="#111">0</text>
<text x="160.40" y="467.60" font-size="13.5" text-anchor="end" fill="#111">10</text>
<text x="160.40" y="441.05" font-size="13.5" text-anchor="end" fill="#111">20</text>
<text x="160.40" y="414.52" font-size="13.5" text-anchor="end" fill="#111">30</text>
<text x="160.40" y="388.10" font-size="13.5" text-anchor="end" fill="#111">40</text>
<text x="160.40" y="354.30" font-size="13.5" text-anchor="end" fill="#111">50</text>
<text x="160.40" y="335.30" font-size="13.5" text-anchor="end" fill="#111">90</text>
<text x="139.40" y="412.50" font-size="13.6" text-anchor="middle" transform="rotate(-90 139.40 412.50)" fill="#111"><tspan font-style="italic">Pf</tspan> Oocysts/Midgut</text>
<line x1="176.00" y1="499.60" x2="333.90" y2="499.60" stroke="#666" stroke-width="0.9"/>
<line x1="192.50" y1="499.60" x2="192.50" y2="502.30" stroke="#666" stroke-width="0.9"/>
<line x1="233.90" y1="499.60" x2="233.90" y2="502.30" stroke="#666" stroke-width="0.9"/>
<line x1="275.50" y1="499.60" x2="275.50" y2="502.30" stroke="#666" stroke-width="0.9"/>
<line x1="317.40" y1="499.60" x2="317.40" y2="502.30" stroke="#666" stroke-width="0.9"/>
<text x="192.00" y="517.50" font-size="13.5" text-anchor="middle" fill="#111">52</text>
<text x="231.80" y="517.50" font-size="13.5" text-anchor="middle" fill="#111">37</text>
<text x="274.70" y="517.50" font-size="13.5" text-anchor="middle" fill="#111">42</text>
<text x="318.50" y="517.50" font-size="13.5" text-anchor="middle" fill="#111">43</text>
<line x1="176.20" y1="526.70" x2="330.00" y2="526.70" stroke="#555" stroke-width="0.8"/>
<g fill="#2a2a2a" fill-opacity="0.6"><circle cx="184.6" cy="340.8" r="1.9"/><circle cx="192.2" cy="342.5" r="1.9"/><circle cx="200.2" cy="342.0" r="1.9"/><circle cx="184.6" cy="348.0" r="1.9"/><circle cx="192.2" cy="350.0" r="1.9"/><circle cx="200.2" cy="349.3" r="1.9"/><circle cx="188.6" cy="358.0" r="1.9"/><circle cx="196.3" cy="358.0" r="1.9"/><circle cx="188.6" cy="363.1" r="1.9"/><circle cx="196.3" cy="363.1" r="1.9"/><circle cx="184.6" cy="381.5" r="1.9"/><circle cx="192.2" cy="384.2" r="1.9"/><circle cx="200.2" cy="384.0" r="1.9"/><circle cx="181.6" cy="386.8" r="1.9"/><circle cx="203.5" cy="387.0" r="1.9"/><circle cx="195.9" cy="389.7" r="1.9"/><circle cx="188.6" cy="392.3" r="1.9"/><circle cx="192.2" cy="397.5" r="1.9"/><circle cx="192.2" cy="403.0" r="1.9"/><circle cx="181.2" cy="405.4" r="1.9"/><circle cx="203.5" cy="405.4" r="1.9"/><circle cx="185.5" cy="407.9" r="1.9"/><circle cx="199.0" cy="407.9" r="1.9"/><circle cx="190.0" cy="410.7" r="1.9"/><circle cx="194.4" cy="410.7" r="1.9"/><circle cx="184.6" cy="416.1" r="1.9"/><circle cx="192.2" cy="417.1" r="1.9"/><circle cx="200.2" cy="416.1" r="1.9"/><circle cx="192.2" cy="418.9" r="1.9"/><circle cx="196.3" cy="426.6" r="1.9"/><circle cx="188.6" cy="429.3" r="1.9"/><circle cx="181.2" cy="434.6" r="1.9"/><circle cx="184.6" cy="434.6" r="1.9"/><circle cx="203.5" cy="434.6" r="1.9"/><circle cx="188.6" cy="437.3" r="1.9"/><circle cx="192.2" cy="437.3" r="1.9"/><circle cx="195.9" cy="437.3" r="1.9"/><circle cx="199.6" cy="437.3" r="1.9"/><circle cx="181.2" cy="440.0" r="1.9"/><circle cx="184.6" cy="440.0" r="1.9"/><circle cx="203.5" cy="440.0" r="1.9"/><circle cx="199.6" cy="442.6" r="1.9"/><circle cx="188.6" cy="445.0" r="1.9"/><circle cx="192.2" cy="445.0" r="1.9"/><circle cx="195.9" cy="445.0" r="1.9"/><circle cx="188.6" cy="450.4" r="1.9"/><circle cx="196.3" cy="450.4" r="1.9"/><circle cx="192.2" cy="455.9" r="1.9"/><circle cx="203.5" cy="458.3" r="1.9"/><circle cx="181.2" cy="461.0" r="1.9"/><circle cx="188.6" cy="463.5" r="1.9"/><circle cx="196.3" cy="463.5" r="1.9"/><circle cx="192.5" cy="474.4" r="1.9"/></g>
<g fill="#000" fill-opacity="1"><circle cx="233.9" cy="338.0" r="1.9"/><circle cx="222.9" cy="345.6" r="1.9"/><circle cx="230.0" cy="348.4" r="1.9"/><circle cx="237.6" cy="347.4" r="1.9"/><circle cx="245.0" cy="345.0" r="1.9"/><circle cx="226.0" cy="360.4" r="1.9"/><circle cx="233.9" cy="363.1" r="1.9"/><circle cx="241.7" cy="360.4" r="1.9"/><circle cx="233.9" cy="371.3" r="1.9"/><circle cx="222.9" cy="381.5" r="1.9"/><circle cx="227.2" cy="384.2" r="1.9"/><circle cx="231.7" cy="387.0" r="1.9"/><circle cx="236.4" cy="387.0" r="1.9"/><circle cx="240.4" cy="381.7" r="1.9"/><circle cx="245.0" cy="381.7" r="1.9"/><circle cx="233.9" cy="392.5" r="1.9"/><circle cx="233.9" cy="400.1" r="1.9"/><circle cx="245.0" cy="403.0" r="1.9"/><circle cx="222.9" cy="405.4" r="1.9"/><circle cx="230.0" cy="408.1" r="1.9"/><circle cx="237.8" cy="408.1" r="1.9"/><circle cx="230.0" cy="413.4" r="1.9"/><circle cx="237.8" cy="413.4" r="1.9"/><circle cx="226.0" cy="424.1" r="1.9"/><circle cx="241.7" cy="426.6" r="1.9"/><circle cx="233.9" cy="429.3" r="1.9"/><circle cx="222.9" cy="434.6" r="1.9"/><circle cx="245.0" cy="434.6" r="1.9"/><circle cx="228.4" cy="437.3" r="1.9"/><circle cx="239.4" cy="437.3" r="1.9"/><circle cx="233.9" cy="440.0" r="1.9"/><circle cx="233.9" cy="447.7" r="1.9"/><circle cx="233.9" cy="452.9" r="1.9"/><circle cx="233.9" cy="463.5" r="1.9"/><circle cx="233.9" cy="471.6" r="1.9"/><circle cx="237.8" cy="479.5" r="1.9"/><circle cx="229.9" cy="482.2" r="1.9"/></g>
<g fill="#46a582" fill-opacity="0.55"><circle cx="267.7" cy="342.9" r="1.9"/><circle cx="275.5" cy="344.5" r="1.9"/><circle cx="283.3" cy="344.1" r="1.9"/><circle cx="275.5" cy="350.0" r="1.9"/><circle cx="275.5" cy="360.4" r="1.9"/><circle cx="275.5" cy="365.9" r="1.9"/><circle cx="275.5" cy="371.3" r="1.9"/><circle cx="275.5" cy="376.6" r="1.9"/><circle cx="286.6" cy="379.0" r="1.9"/><circle cx="264.5" cy="381.7" r="1.9"/><circle cx="279.2" cy="381.7" r="1.9"/><circle cx="271.9" cy="384.2" r="1.9"/><circle cx="264.5" cy="387.0" r="1.9"/><circle cx="286.6" cy="387.0" r="1.9"/><circle cx="279.2" cy="389.7" r="1.9"/><circle cx="271.9" cy="392.3" r="1.9"/><circle cx="264.5" cy="395.0" r="1.9"/><circle cx="286.6" cy="395.0" r="1.9"/><circle cx="270.1" cy="397.5" r="1.9"/><circle cx="275.5" cy="400.1" r="1.9"/><circle cx="281.2" cy="400.1" r="1.9"/><circle cx="271.6" cy="413.4" r="1.9"/><circle cx="279.2" cy="413.4" r="1.9"/><circle cx="267.7" cy="418.7" r="1.9"/><circle cx="283.3" cy="418.7" r="1.9"/><circle cx="275.5" cy="421.4" r="1.9"/><circle cx="264.5" cy="431.8" r="1.9"/><circle cx="286.6" cy="431.8" r="1.9"/><circle cx="270.1" cy="434.5" r="1.9"/><circle cx="281.1" cy="434.5" r="1.9"/><circle cx="275.5" cy="437.3" r="1.9"/><circle cx="271.6" cy="442.5" r="1.9"/><circle cx="279.2" cy="442.5" r="1.9"/><circle cx="267.7" cy="455.8" r="1.9"/><circle cx="283.3" cy="458.3" r="1.9"/><circle cx="275.5" cy="461.0" r="1.9"/><circle cx="267.7" cy="466.3" r="1.9"/><circle cx="275.5" cy="466.3" r="1.9"/><circle cx="283.3" cy="466.3" r="1.9"/><circle cx="275.5" cy="471.6" r="1.9"/><circle cx="275.5" cy="479.5" r="1.9"/><circle cx="275.5" cy="490.2" r="1.9"/></g>
<g fill="#3ce128" fill-opacity="0.5"><circle cx="317.4" cy="381.7" r="1.9"/><circle cx="317.0" cy="434.5" r="1.9"/><circle cx="306.0" cy="437.3" r="1.9"/><circle cx="328.0" cy="437.3" r="1.9"/><circle cx="310.5" cy="439.8" r="1.9"/><circle cx="319.2" cy="440.0" r="1.9"/><circle cx="323.7" cy="440.0" r="1.9"/><circle cx="314.8" cy="442.6" r="1.9"/><circle cx="321.0" cy="450.8" r="1.9"/><circle cx="313.3" cy="453.2" r="1.9"/><circle cx="306.0" cy="458.3" r="1.9"/><circle cx="311.5" cy="458.3" r="1.9"/><circle cx="322.8" cy="458.3" r="1.9"/><circle cx="328.0" cy="458.3" r="1.9"/><circle cx="317.0" cy="461.0" r="1.9"/><circle cx="317.0" cy="466.3" r="1.9"/><circle cx="306.6" cy="468.9" r="1.9"/><circle cx="309.0" cy="468.9" r="1.9"/><circle cx="325.6" cy="468.9" r="1.9"/><circle cx="328.0" cy="468.9" r="1.9"/><circle cx="321.3" cy="471.3" r="1.9"/><circle cx="311.5" cy="474.3" r="1.9"/><circle cx="317.0" cy="474.3" r="1.9"/><circle cx="322.5" cy="474.3" r="1.9"/><circle cx="306.0" cy="477.1" r="1.9"/><circle cx="309.0" cy="479.5" r="1.9"/><circle cx="312.7" cy="479.5" r="1.9"/><circle cx="325.0" cy="479.5" r="1.9"/><circle cx="328.0" cy="479.5" r="1.9"/><circle cx="317.0" cy="482.2" r="1.9"/><circle cx="320.7" cy="482.2" r="1.9"/><circle cx="305.6" cy="484.4" r="1.9"/><circle cx="307.6" cy="486.2" r="1.9"/><circle cx="309.7" cy="487.9" r="1.9"/><circle cx="312.0" cy="489.2" r="1.9"/><circle cx="314.5" cy="490.2" r="1.9"/><circle cx="317.0" cy="490.6" r="1.9"/><circle cx="319.5" cy="490.2" r="1.9"/><circle cx="322.0" cy="489.2" r="1.9"/><circle cx="324.3" cy="487.9" r="1.9"/><circle cx="326.4" cy="486.2" r="1.9"/><circle cx="328.4" cy="484.4" r="1.9"/></g>
<line x1="176.30" y1="416.10" x2="208.40" y2="416.10" stroke="#3b3be0" stroke-width="1.6"/>
<line x1="217.60" y1="405.40" x2="250.20" y2="405.40" stroke="#3b3be0" stroke-width="1.6"/>
<line x1="259.40" y1="406.90" x2="291.90" y2="406.90" stroke="#3b3be0" stroke-width="1.6"/>
<line x1="301.00" y1="474.30" x2="333.50" y2="474.30" stroke="#3b3be0" stroke-width="1.6"/>
<polyline points="192.0,324.2 192.0,321.7 234.3,321.7 234.3,324.2" fill="none" stroke="#606060" stroke-width="0.95"/>
<text x="216.30" y="320.40" font-size="14" text-anchor="middle" fill="#111">ns</text>
<polyline points="231.1,315.0 231.1,314.6 318.6,314.6 318.6,330.0" fill="none" stroke="#606060" stroke-width="0.95"/>
<text x="278.40" y="318.10" font-size="12.5" font-weight="bold" letter-spacing="0.39" text-anchor="middle" fill="#111">****</text>
<polyline points="275.3,335.2 275.3,332.3 317.3,332.3 317.3,335.2" fill="none" stroke="#606060" stroke-width="0.95"/>
<text x="298.80" y="334.60" font-size="12.5" font-weight="bold" letter-spacing="0.39" text-anchor="middle" fill="#111">****</text>
<text x="199.50" y="543.60" font-size="13.5" text-anchor="end" transform="rotate(-45 199.50 543.60)" fill="#111">WT</text>
<text x="243.00" y="541.50" font-size="13.5" text-anchor="end" transform="rotate(-45 243.00 541.50)" fill="#111">Cas9</text>
<text x="285.00" y="537.50" font-size="13.5" text-anchor="end" transform="rotate(-45 285.00 537.50)" font-style="italic" fill="#111">GFP-L</text>
<text x="326.50" y="536.00" font-size="13.5" text-anchor="end" transform="rotate(-45 326.50 536.00)" font-style="italic" fill="#111">GFP-Q</text>
<line x1="536.10" y1="376.40" x2="536.10" y2="493.20" stroke="#222" stroke-width="1.0"/>
<line x1="536.10" y1="354.10" x2="536.10" y2="369.40" stroke="#222" stroke-width="1.0"/>
<line x1="533.10" y1="493.20" x2="536.10" y2="493.20" stroke="#222" stroke-width="0.9"/>
<line x1="533.10" y1="463.98" x2="536.10" y2="463.98" stroke="#222" stroke-width="0.9"/>
<line x1="533.10" y1="434.76" x2="536.10" y2="434.76" stroke="#222" stroke-width="0.9"/>
<line x1="533.10" y1="405.54" x2="536.10" y2="405.54" stroke="#222" stroke-width="0.9"/>
<line x1="533.50" y1="376.40" x2="538.30" y2="376.40" stroke="#222" stroke-width="0.9"/>
<line x1="533.50" y1="369.40" x2="537.90" y2="369.40" stroke="#222" stroke-width="0.9"/>
<line x1="533.10" y1="355.70" x2="536.10" y2="355.70" stroke="#222" stroke-width="0.9"/>
<line x1="534.40" y1="359.20" x2="536.10" y2="359.20" stroke="#222" stroke-width="0.9"/>
<line x1="534.40" y1="362.80" x2="536.10" y2="362.80" stroke="#222" stroke-width="0.9"/>
<line x1="533.10" y1="366.30" x2="536.10" y2="366.30" stroke="#222" stroke-width="0.9"/>
<text x="525.90" y="497.50" font-size="13.5" text-anchor="end" fill="#111">0</text>
<text x="529.70" y="468.28" font-size="13.5" text-anchor="end" fill="#111">10</text>
<text x="529.70" y="439.06" font-size="13.5" text-anchor="end" fill="#111">20</text>
<text x="529.70" y="409.84" font-size="13.5" text-anchor="end" fill="#111">30</text>
<text x="529.70" y="381.50" font-size="13.5" text-anchor="end" fill="#111">40</text>
<text x="529.70" y="369.50" font-size="13.5" text-anchor="end" fill="#111">50</text>
<text x="529.70" y="358.80" font-size="13.5" text-anchor="end" fill="#111">90</text>
<text x="507.2" y="427.3" font-size="13.87" text-anchor="middle" transform="rotate(-90 507.2 427.3)" fill="#111"><tspan font-style="italic">Pf</tspan> Sporozoites/SGs (x10<tspan font-size="8.2" dy="-5">3</tspan><tspan dy="5">)</tspan></text>
<line x1="544.50" y1="502.10" x2="685.00" y2="502.10" stroke="#666" stroke-width="0.9"/>
<line x1="559.20" y1="502.10" x2="559.20" y2="504.40" stroke="#666" stroke-width="0.9"/>
<line x1="596.20" y1="502.10" x2="596.20" y2="504.40" stroke="#666" stroke-width="0.9"/>
<line x1="632.90" y1="502.10" x2="632.90" y2="504.40" stroke="#666" stroke-width="0.9"/>
<line x1="669.40" y1="502.10" x2="669.40" y2="504.40" stroke="#666" stroke-width="0.9"/>
<text x="560.90" y="520.10" font-size="13.5" text-anchor="middle" fill="#111">39</text>
<text x="596.70" y="520.10" font-size="13.5" text-anchor="middle" fill="#111">39</text>
<text x="632.30" y="520.10" font-size="13.5" text-anchor="middle" fill="#111">39</text>
<text x="671.50" y="520.10" font-size="13.5" text-anchor="middle" fill="#111">39</text>
<line x1="542.90" y1="526.70" x2="685.00" y2="526.70" stroke="#555" stroke-width="0.8"/>
<g fill="#2a2a2a" fill-opacity="0.6"><circle cx="556.0" cy="356.2" r="1.65"/><circle cx="562.7" cy="355.3" r="1.65"/><circle cx="549.4" cy="360.8" r="1.65"/><circle cx="554.5" cy="362.7" r="1.65"/><circle cx="559.4" cy="363.3" r="1.65"/><circle cx="564.6" cy="363.1" r="1.65"/><circle cx="569.2" cy="362.7" r="1.65"/><circle cx="549.1" cy="366.4" r="1.65"/><circle cx="550.8" cy="367.4" r="1.65"/><circle cx="552.5" cy="368.2" r="1.65"/><circle cx="554.2" cy="368.8" r="1.65"/><circle cx="556.0" cy="369.2" r="1.65"/><circle cx="557.7" cy="369.5" r="1.65"/><circle cx="559.4" cy="369.6" r="1.65"/><circle cx="561.1" cy="369.5" r="1.65"/><circle cx="562.8" cy="369.2" r="1.65"/><circle cx="564.5" cy="368.8" r="1.65"/><circle cx="566.3" cy="368.2" r="1.65"/><circle cx="568.0" cy="367.4" r="1.65"/><circle cx="569.7" cy="366.4" r="1.65"/><circle cx="555.8" cy="376.4" r="1.65"/><circle cx="562.7" cy="376.4" r="1.65"/><circle cx="555.8" cy="379.9" r="1.65"/><circle cx="562.7" cy="379.9" r="1.65"/><circle cx="555.8" cy="387.5" r="1.65"/><circle cx="562.7" cy="387.5" r="1.65"/><circle cx="559.2" cy="391.3" r="1.65"/><circle cx="559.2" cy="402.8" r="1.65"/><circle cx="555.8" cy="414.1" r="1.65"/><circle cx="562.7" cy="414.1" r="1.65"/><circle cx="552.3" cy="418.0" r="1.65"/><circle cx="559.2" cy="418.0" r="1.65"/><circle cx="566.4" cy="418.0" r="1.65"/><circle cx="559.2" cy="421.8" r="1.65"/><circle cx="559.2" cy="425.5" r="1.65"/><circle cx="555.8" cy="429.2" r="1.65"/><circle cx="562.7" cy="429.2" r="1.65"/><circle cx="555.8" cy="436.5" r="1.65"/><circle cx="562.7" cy="436.5" r="1.65"/><circle cx="559.2" cy="444.1" r="1.65"/><circle cx="559.2" cy="448.1" r="1.65"/><circle cx="555.8" cy="455.8" r="1.65"/><circle cx="562.7" cy="455.8" r="1.65"/><circle cx="559.2" cy="470.5" r="1.65"/></g>
<g fill="#000" fill-opacity="1"><circle cx="596.2" cy="357.8" r="1.75"/><circle cx="589.5" cy="362.3" r="1.75"/><circle cx="596.2" cy="363.5" r="1.75"/><circle cx="603.2" cy="362.3" r="1.75"/><circle cx="585.7" cy="364.8" r="1.75"/><circle cx="587.1" cy="366.0" r="1.75"/><circle cx="588.5" cy="367.0" r="1.75"/><circle cx="589.9" cy="367.9" r="1.75"/><circle cx="591.4" cy="368.6" r="1.75"/><circle cx="592.8" cy="369.1" r="1.75"/><circle cx="594.2" cy="369.4" r="1.75"/><circle cx="595.6" cy="369.6" r="1.75"/><circle cx="597.0" cy="369.6" r="1.75"/><circle cx="598.4" cy="369.4" r="1.75"/><circle cx="599.8" cy="369.1" r="1.75"/><circle cx="601.2" cy="368.6" r="1.75"/><circle cx="602.7" cy="367.9" r="1.75"/><circle cx="604.1" cy="367.0" r="1.75"/><circle cx="605.5" cy="366.0" r="1.75"/><circle cx="606.9" cy="364.8" r="1.75"/><circle cx="596.2" cy="376.4" r="1.75"/><circle cx="599.7" cy="385.7" r="1.75"/><circle cx="592.5" cy="389.0" r="1.75"/><circle cx="589.2" cy="392.1" r="1.75"/><circle cx="596.2" cy="395.4" r="1.75"/><circle cx="603.2" cy="395.4" r="1.75"/><circle cx="592.8" cy="401.4" r="1.75"/><circle cx="599.7" cy="401.4" r="1.75"/><circle cx="596.2" cy="414.5" r="1.75"/><circle cx="599.7" cy="417.5" r="1.75"/><circle cx="592.8" cy="420.6" r="1.75"/><circle cx="592.8" cy="426.7" r="1.75"/><circle cx="599.7" cy="426.7" r="1.75"/><circle cx="589.2" cy="430.0" r="1.75"/><circle cx="603.2" cy="430.0" r="1.75"/><circle cx="596.2" cy="433.1" r="1.75"/><circle cx="596.2" cy="442.7" r="1.75"/><circle cx="596.2" cy="449.0" r="1.75"/><circle cx="596.2" cy="461.8" r="1.75"/><circle cx="596.2" cy="471.3" r="1.75"/><circle cx="599.7" cy="480.6" r="1.75"/><circle cx="592.8" cy="483.7" r="1.75"/><circle cx="592.8" cy="493.1" r="1.75"/><circle cx="599.7" cy="493.1" r="1.75"/></g>
<g fill="#46a582" fill-opacity="0.6"><circle cx="625.9" cy="363.1" r="1.65"/><circle cx="632.9" cy="364.2" r="1.65"/><circle cx="640.0" cy="363.3" r="1.65"/><circle cx="622.8" cy="367.6" r="1.65"/><circle cx="627.0" cy="369.2" r="1.65"/><circle cx="630.8" cy="369.7" r="1.65"/><circle cx="634.7" cy="369.4" r="1.65"/><circle cx="638.8" cy="368.6" r="1.65"/><circle cx="642.9" cy="367.2" r="1.65"/><circle cx="625.9" cy="378.0" r="1.65"/><circle cx="640.0" cy="378.0" r="1.65"/><circle cx="632.9" cy="380.7" r="1.65"/><circle cx="625.9" cy="383.5" r="1.65"/><circle cx="640.0" cy="383.5" r="1.65"/><circle cx="632.9" cy="386.4" r="1.65"/><circle cx="625.9" cy="389.3" r="1.65"/><circle cx="632.9" cy="392.1" r="1.65"/><circle cx="640.0" cy="392.1" r="1.65"/><circle cx="625.9" cy="394.8" r="1.65"/><circle cx="632.9" cy="397.6" r="1.65"/><circle cx="640.0" cy="397.6" r="1.65"/><circle cx="629.4" cy="411.9" r="1.65"/><circle cx="636.3" cy="411.9" r="1.65"/><circle cx="625.9" cy="417.5" r="1.65"/><circle cx="639.9" cy="417.5" r="1.65"/><circle cx="632.9" cy="420.2" r="1.65"/><circle cx="629.4" cy="431.6" r="1.65"/><circle cx="636.3" cy="431.6" r="1.65"/><circle cx="625.9" cy="434.6" r="1.65"/><circle cx="639.9" cy="434.6" r="1.65"/><circle cx="632.9" cy="437.2" r="1.65"/><circle cx="629.4" cy="442.7" r="1.65"/><circle cx="636.3" cy="442.7" r="1.65"/><circle cx="636.3" cy="459.7" r="1.65"/><circle cx="629.4" cy="462.5" r="1.65"/><circle cx="629.4" cy="468.0" r="1.65"/><circle cx="636.3" cy="468.0" r="1.65"/><circle cx="632.9" cy="473.5" r="1.65"/><circle cx="632.9" cy="482.1" r="1.65"/></g>
<g fill="#3ce128" fill-opacity="0.55"><circle cx="669.7" cy="378.3" r="1.65"/><circle cx="662.7" cy="434.1" r="1.65"/><circle cx="669.7" cy="436.8" r="1.65"/><circle cx="676.4" cy="436.8" r="1.65"/><circle cx="659.9" cy="439.9" r="1.65"/><circle cx="673.1" cy="439.9" r="1.65"/><circle cx="679.5" cy="439.9" r="1.65"/><circle cx="666.2" cy="442.7" r="1.65"/><circle cx="673.1" cy="451.1" r="1.65"/><circle cx="666.2" cy="454.0" r="1.65"/><circle cx="659.9" cy="459.7" r="1.65"/><circle cx="664.8" cy="459.7" r="1.65"/><circle cx="674.6" cy="459.7" r="1.65"/><circle cx="679.5" cy="459.7" r="1.65"/><circle cx="669.7" cy="462.5" r="1.65"/><circle cx="679.5" cy="468.0" r="1.65"/><circle cx="659.9" cy="471.0" r="1.65"/><circle cx="666.0" cy="471.0" r="1.65"/><circle cx="672.7" cy="471.0" r="1.65"/><circle cx="659.9" cy="479.6" r="1.65"/><circle cx="659.9" cy="482.1" r="1.65"/><circle cx="666.0" cy="482.1" r="1.65"/><circle cx="664.8" cy="484.5" r="1.65"/><circle cx="672.7" cy="482.1" r="1.65"/><circle cx="679.5" cy="482.1" r="1.65"/><circle cx="669.7" cy="487.2" r="1.65"/><circle cx="674.6" cy="487.6" r="1.65"/><circle cx="659.9" cy="490.0" r="1.65"/><circle cx="661.7" cy="490.0" r="1.65"/><circle cx="678.3" cy="490.0" r="1.65"/><circle cx="680.1" cy="490.0" r="1.65"/><circle cx="669.7" cy="476.3" r="1.65"/><circle cx="676.0" cy="476.3" r="1.65"/><circle cx="663.5" cy="492.7" r="1.65"/><circle cx="665.0" cy="492.7" r="1.65"/><circle cx="666.6" cy="492.7" r="1.65"/><circle cx="668.1" cy="492.7" r="1.65"/><circle cx="669.7" cy="492.7" r="1.65"/><circle cx="671.2" cy="492.7" r="1.65"/><circle cx="672.7" cy="492.7" r="1.65"/><circle cx="674.3" cy="492.7" r="1.65"/><circle cx="675.8" cy="492.7" r="1.65"/></g>
<line x1="548.10" y1="387.50" x2="571.10" y2="387.50" stroke="#3b3be0" stroke-width="1.4"/>
<line x1="584.60" y1="395.40" x2="607.90" y2="395.40" stroke="#3b3be0" stroke-width="1.4"/>
<line x1="621.20" y1="397.60" x2="644.20" y2="397.60" stroke="#3b3be0" stroke-width="1.4"/>
<line x1="658.00" y1="476.30" x2="681.30" y2="476.30" stroke="#3b3be0" stroke-width="1.4"/>
<polyline points="558.8,346.1 558.8,343.7 596.6,343.7 596.6,346.1" fill="none" stroke="#606060" stroke-width="0.95"/>
<text x="578.40" y="343.60" font-size="14" text-anchor="middle" fill="#111">ns</text>
<polyline points="594.2,338.0 594.2,337.5 670.4,337.5 670.4,344.6" fill="none" stroke="#606060" stroke-width="0.95"/>
<text x="636.80" y="340.90" font-size="12.5" font-weight="bold" letter-spacing="0.39" text-anchor="middle" fill="#111">****</text>
<polyline points="630.8,358.4 630.8,355.9 668.2,355.9 668.2,358.4" fill="none" stroke="#606060" stroke-width="0.95"/>
<text x="648.60" y="358.00" font-size="12.5" font-weight="bold" letter-spacing="0.39" text-anchor="middle" fill="#111">****</text>
<text x="567.30" y="549.30" font-size="13.5" text-anchor="end" transform="rotate(-45 567.30 549.30)" fill="#111">WT</text>
<text x="604.10" y="549.80" font-size="13.5" text-anchor="end" transform="rotate(-45 604.10 549.80)" fill="#111">Cas9</text>
<text x="642.20" y="542.80" font-size="13.5" text-anchor="end" transform="rotate(-45 642.20 542.80)" font-style="italic" fill="#111">GFP-L</text>
<text x="678.00" y="540.90" font-size="13.5" text-anchor="end" transform="rotate(-45 678.00 540.90)" font-style="italic" fill="#111">GFP-Q</text>
</svg></body></html>
